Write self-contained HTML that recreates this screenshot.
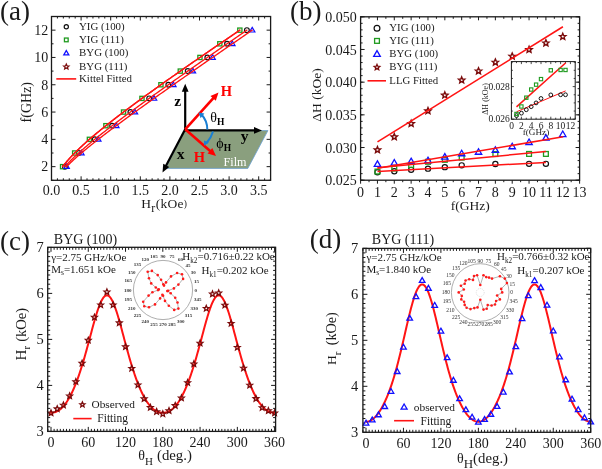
<!DOCTYPE html>
<html><head><meta charset="utf-8"><style>
html,body{margin:0;padding:0;background:#fff;width:602px;height:469px;overflow:hidden}
svg{display:block;font-family:"Liberation Serif", serif;will-change:transform}
</style></head><body>
<svg width="602" height="469" viewBox="0 0 602 469">
<rect width="602" height="469" fill="#fff"/>
<text x="0" y="20.1" font-size="27" text-anchor="start" font-weight="normal" fill="#1a1a1a" >(a)</text>
<line x1="51.5" y1="180.3" x2="51.5" y2="176.3" stroke="#1a1a1a" stroke-width="1.0" />
<line x1="51.5" y1="16.5" x2="51.5" y2="20.5" stroke="#1a1a1a" stroke-width="1.0" />
<line x1="81.1" y1="180.3" x2="81.1" y2="176.3" stroke="#1a1a1a" stroke-width="1.0" />
<line x1="81.1" y1="16.5" x2="81.1" y2="20.5" stroke="#1a1a1a" stroke-width="1.0" />
<line x1="110.7" y1="180.3" x2="110.7" y2="176.3" stroke="#1a1a1a" stroke-width="1.0" />
<line x1="110.7" y1="16.5" x2="110.7" y2="20.5" stroke="#1a1a1a" stroke-width="1.0" />
<line x1="140.3" y1="180.3" x2="140.3" y2="176.3" stroke="#1a1a1a" stroke-width="1.0" />
<line x1="140.3" y1="16.5" x2="140.3" y2="20.5" stroke="#1a1a1a" stroke-width="1.0" />
<line x1="169.9" y1="180.3" x2="169.9" y2="176.3" stroke="#1a1a1a" stroke-width="1.0" />
<line x1="169.9" y1="16.5" x2="169.9" y2="20.5" stroke="#1a1a1a" stroke-width="1.0" />
<line x1="199.5" y1="180.3" x2="199.5" y2="176.3" stroke="#1a1a1a" stroke-width="1.0" />
<line x1="199.5" y1="16.5" x2="199.5" y2="20.5" stroke="#1a1a1a" stroke-width="1.0" />
<line x1="229.1" y1="180.3" x2="229.1" y2="176.3" stroke="#1a1a1a" stroke-width="1.0" />
<line x1="229.1" y1="16.5" x2="229.1" y2="20.5" stroke="#1a1a1a" stroke-width="1.0" />
<line x1="258.7" y1="180.3" x2="258.7" y2="176.3" stroke="#1a1a1a" stroke-width="1.0" />
<line x1="258.7" y1="16.5" x2="258.7" y2="20.5" stroke="#1a1a1a" stroke-width="1.0" />
<line x1="57.42" y1="180.3" x2="57.42" y2="178.3" stroke="#1a1a1a" stroke-width="1.0" />
<line x1="57.42" y1="16.5" x2="57.42" y2="18.5" stroke="#1a1a1a" stroke-width="1.0" />
<line x1="63.34" y1="180.3" x2="63.34" y2="178.3" stroke="#1a1a1a" stroke-width="1.0" />
<line x1="63.34" y1="16.5" x2="63.34" y2="18.5" stroke="#1a1a1a" stroke-width="1.0" />
<line x1="69.26" y1="180.3" x2="69.26" y2="178.3" stroke="#1a1a1a" stroke-width="1.0" />
<line x1="69.26" y1="16.5" x2="69.26" y2="18.5" stroke="#1a1a1a" stroke-width="1.0" />
<line x1="75.18" y1="180.3" x2="75.18" y2="178.3" stroke="#1a1a1a" stroke-width="1.0" />
<line x1="75.18" y1="16.5" x2="75.18" y2="18.5" stroke="#1a1a1a" stroke-width="1.0" />
<line x1="87.02" y1="180.3" x2="87.02" y2="178.3" stroke="#1a1a1a" stroke-width="1.0" />
<line x1="87.02" y1="16.5" x2="87.02" y2="18.5" stroke="#1a1a1a" stroke-width="1.0" />
<line x1="92.94" y1="180.3" x2="92.94" y2="178.3" stroke="#1a1a1a" stroke-width="1.0" />
<line x1="92.94" y1="16.5" x2="92.94" y2="18.5" stroke="#1a1a1a" stroke-width="1.0" />
<line x1="98.86" y1="180.3" x2="98.86" y2="178.3" stroke="#1a1a1a" stroke-width="1.0" />
<line x1="98.86" y1="16.5" x2="98.86" y2="18.5" stroke="#1a1a1a" stroke-width="1.0" />
<line x1="104.78" y1="180.3" x2="104.78" y2="178.3" stroke="#1a1a1a" stroke-width="1.0" />
<line x1="104.78" y1="16.5" x2="104.78" y2="18.5" stroke="#1a1a1a" stroke-width="1.0" />
<line x1="116.62" y1="180.3" x2="116.62" y2="178.3" stroke="#1a1a1a" stroke-width="1.0" />
<line x1="116.62" y1="16.5" x2="116.62" y2="18.5" stroke="#1a1a1a" stroke-width="1.0" />
<line x1="122.54" y1="180.3" x2="122.54" y2="178.3" stroke="#1a1a1a" stroke-width="1.0" />
<line x1="122.54" y1="16.5" x2="122.54" y2="18.5" stroke="#1a1a1a" stroke-width="1.0" />
<line x1="128.46" y1="180.3" x2="128.46" y2="178.3" stroke="#1a1a1a" stroke-width="1.0" />
<line x1="128.46" y1="16.5" x2="128.46" y2="18.5" stroke="#1a1a1a" stroke-width="1.0" />
<line x1="134.38" y1="180.3" x2="134.38" y2="178.3" stroke="#1a1a1a" stroke-width="1.0" />
<line x1="134.38" y1="16.5" x2="134.38" y2="18.5" stroke="#1a1a1a" stroke-width="1.0" />
<line x1="146.22" y1="180.3" x2="146.22" y2="178.3" stroke="#1a1a1a" stroke-width="1.0" />
<line x1="146.22" y1="16.5" x2="146.22" y2="18.5" stroke="#1a1a1a" stroke-width="1.0" />
<line x1="152.14" y1="180.3" x2="152.14" y2="178.3" stroke="#1a1a1a" stroke-width="1.0" />
<line x1="152.14" y1="16.5" x2="152.14" y2="18.5" stroke="#1a1a1a" stroke-width="1.0" />
<line x1="158.06" y1="180.3" x2="158.06" y2="178.3" stroke="#1a1a1a" stroke-width="1.0" />
<line x1="158.06" y1="16.5" x2="158.06" y2="18.5" stroke="#1a1a1a" stroke-width="1.0" />
<line x1="163.98" y1="180.3" x2="163.98" y2="178.3" stroke="#1a1a1a" stroke-width="1.0" />
<line x1="163.98" y1="16.5" x2="163.98" y2="18.5" stroke="#1a1a1a" stroke-width="1.0" />
<line x1="175.82" y1="180.3" x2="175.82" y2="178.3" stroke="#1a1a1a" stroke-width="1.0" />
<line x1="175.82" y1="16.5" x2="175.82" y2="18.5" stroke="#1a1a1a" stroke-width="1.0" />
<line x1="181.74" y1="180.3" x2="181.74" y2="178.3" stroke="#1a1a1a" stroke-width="1.0" />
<line x1="181.74" y1="16.5" x2="181.74" y2="18.5" stroke="#1a1a1a" stroke-width="1.0" />
<line x1="187.66" y1="180.3" x2="187.66" y2="178.3" stroke="#1a1a1a" stroke-width="1.0" />
<line x1="187.66" y1="16.5" x2="187.66" y2="18.5" stroke="#1a1a1a" stroke-width="1.0" />
<line x1="193.58" y1="180.3" x2="193.58" y2="178.3" stroke="#1a1a1a" stroke-width="1.0" />
<line x1="193.58" y1="16.5" x2="193.58" y2="18.5" stroke="#1a1a1a" stroke-width="1.0" />
<line x1="205.42" y1="180.3" x2="205.42" y2="178.3" stroke="#1a1a1a" stroke-width="1.0" />
<line x1="205.42" y1="16.5" x2="205.42" y2="18.5" stroke="#1a1a1a" stroke-width="1.0" />
<line x1="211.34" y1="180.3" x2="211.34" y2="178.3" stroke="#1a1a1a" stroke-width="1.0" />
<line x1="211.34" y1="16.5" x2="211.34" y2="18.5" stroke="#1a1a1a" stroke-width="1.0" />
<line x1="217.26" y1="180.3" x2="217.26" y2="178.3" stroke="#1a1a1a" stroke-width="1.0" />
<line x1="217.26" y1="16.5" x2="217.26" y2="18.5" stroke="#1a1a1a" stroke-width="1.0" />
<line x1="223.18" y1="180.3" x2="223.18" y2="178.3" stroke="#1a1a1a" stroke-width="1.0" />
<line x1="223.18" y1="16.5" x2="223.18" y2="18.5" stroke="#1a1a1a" stroke-width="1.0" />
<line x1="235.02" y1="180.3" x2="235.02" y2="178.3" stroke="#1a1a1a" stroke-width="1.0" />
<line x1="235.02" y1="16.5" x2="235.02" y2="18.5" stroke="#1a1a1a" stroke-width="1.0" />
<line x1="240.94" y1="180.3" x2="240.94" y2="178.3" stroke="#1a1a1a" stroke-width="1.0" />
<line x1="240.94" y1="16.5" x2="240.94" y2="18.5" stroke="#1a1a1a" stroke-width="1.0" />
<line x1="246.86" y1="180.3" x2="246.86" y2="178.3" stroke="#1a1a1a" stroke-width="1.0" />
<line x1="246.86" y1="16.5" x2="246.86" y2="18.5" stroke="#1a1a1a" stroke-width="1.0" />
<line x1="252.78" y1="180.3" x2="252.78" y2="178.3" stroke="#1a1a1a" stroke-width="1.0" />
<line x1="252.78" y1="16.5" x2="252.78" y2="18.5" stroke="#1a1a1a" stroke-width="1.0" />
<line x1="264.62" y1="180.3" x2="264.62" y2="178.3" stroke="#1a1a1a" stroke-width="1.0" />
<line x1="264.62" y1="16.5" x2="264.62" y2="18.5" stroke="#1a1a1a" stroke-width="1.0" />
<line x1="270.54" y1="180.3" x2="270.54" y2="178.3" stroke="#1a1a1a" stroke-width="1.0" />
<line x1="270.54" y1="16.5" x2="270.54" y2="18.5" stroke="#1a1a1a" stroke-width="1.0" />
<line x1="51.5" y1="166.65" x2="55.5" y2="166.65" stroke="#1a1a1a" stroke-width="1.0" />
<line x1="270.6" y1="166.65" x2="266.6" y2="166.65" stroke="#1a1a1a" stroke-width="1.0" />
<line x1="51.5" y1="139.35" x2="55.5" y2="139.35" stroke="#1a1a1a" stroke-width="1.0" />
<line x1="270.6" y1="139.35" x2="266.6" y2="139.35" stroke="#1a1a1a" stroke-width="1.0" />
<line x1="51.5" y1="112.05" x2="55.5" y2="112.05" stroke="#1a1a1a" stroke-width="1.0" />
<line x1="270.6" y1="112.05" x2="266.6" y2="112.05" stroke="#1a1a1a" stroke-width="1.0" />
<line x1="51.5" y1="84.75" x2="55.5" y2="84.75" stroke="#1a1a1a" stroke-width="1.0" />
<line x1="270.6" y1="84.75" x2="266.6" y2="84.75" stroke="#1a1a1a" stroke-width="1.0" />
<line x1="51.5" y1="57.45" x2="55.5" y2="57.45" stroke="#1a1a1a" stroke-width="1.0" />
<line x1="270.6" y1="57.45" x2="266.6" y2="57.45" stroke="#1a1a1a" stroke-width="1.0" />
<line x1="51.5" y1="30.15" x2="55.5" y2="30.15" stroke="#1a1a1a" stroke-width="1.0" />
<line x1="270.6" y1="30.15" x2="266.6" y2="30.15" stroke="#1a1a1a" stroke-width="1.0" />
<line x1="51.5" y1="180.3" x2="53.5" y2="180.3" stroke="#1a1a1a" stroke-width="1.0" />
<line x1="270.6" y1="180.3" x2="268.6" y2="180.3" stroke="#1a1a1a" stroke-width="1.0" />
<line x1="51.5" y1="153" x2="53.5" y2="153" stroke="#1a1a1a" stroke-width="1.0" />
<line x1="270.6" y1="153" x2="268.6" y2="153" stroke="#1a1a1a" stroke-width="1.0" />
<line x1="51.5" y1="125.7" x2="53.5" y2="125.7" stroke="#1a1a1a" stroke-width="1.0" />
<line x1="270.6" y1="125.7" x2="268.6" y2="125.7" stroke="#1a1a1a" stroke-width="1.0" />
<line x1="51.5" y1="98.4" x2="53.5" y2="98.4" stroke="#1a1a1a" stroke-width="1.0" />
<line x1="270.6" y1="98.4" x2="268.6" y2="98.4" stroke="#1a1a1a" stroke-width="1.0" />
<line x1="51.5" y1="71.1" x2="53.5" y2="71.1" stroke="#1a1a1a" stroke-width="1.0" />
<line x1="270.6" y1="71.1" x2="268.6" y2="71.1" stroke="#1a1a1a" stroke-width="1.0" />
<line x1="51.5" y1="43.8" x2="53.5" y2="43.8" stroke="#1a1a1a" stroke-width="1.0" />
<line x1="270.6" y1="43.8" x2="268.6" y2="43.8" stroke="#1a1a1a" stroke-width="1.0" />
<line x1="51.5" y1="16.5" x2="53.5" y2="16.5" stroke="#1a1a1a" stroke-width="1.0" />
<line x1="270.6" y1="16.5" x2="268.6" y2="16.5" stroke="#1a1a1a" stroke-width="1.0" />
<text x="51.5" y="195.1" font-size="14" text-anchor="middle" font-weight="normal" fill="#1a1a1a" >0.0</text>
<text x="81.1" y="195.1" font-size="14" text-anchor="middle" font-weight="normal" fill="#1a1a1a" >0.5</text>
<text x="110.7" y="195.1" font-size="14" text-anchor="middle" font-weight="normal" fill="#1a1a1a" >1.0</text>
<text x="140.3" y="195.1" font-size="14" text-anchor="middle" font-weight="normal" fill="#1a1a1a" >1.5</text>
<text x="169.9" y="195.1" font-size="14" text-anchor="middle" font-weight="normal" fill="#1a1a1a" >2.0</text>
<text x="199.5" y="195.1" font-size="14" text-anchor="middle" font-weight="normal" fill="#1a1a1a" >2.5</text>
<text x="229.1" y="195.1" font-size="14" text-anchor="middle" font-weight="normal" fill="#1a1a1a" >3.0</text>
<text x="258.7" y="195.1" font-size="14" text-anchor="middle" font-weight="normal" fill="#1a1a1a" >3.5</text>
<text x="48.2" y="171.45" font-size="14" text-anchor="end" font-weight="normal" fill="#1a1a1a" >2</text>
<text x="48.2" y="144.15" font-size="14" text-anchor="end" font-weight="normal" fill="#1a1a1a" >4</text>
<text x="48.2" y="116.85" font-size="14" text-anchor="end" font-weight="normal" fill="#1a1a1a" >6</text>
<text x="48.2" y="89.55" font-size="14" text-anchor="end" font-weight="normal" fill="#1a1a1a" >8</text>
<text x="48.2" y="62.25" font-size="14" text-anchor="end" font-weight="normal" fill="#1a1a1a" >10</text>
<text x="48.2" y="34.95" font-size="14" text-anchor="end" font-weight="normal" fill="#1a1a1a" >12</text>
<text transform="translate(30.6,102.2) rotate(-90)" font-size="14" text-anchor="middle" fill="#1a1a1a">f(GHz)</text>
<text x="141.3" y="207.8" font-size="13.5" letter-spacing="0.3" fill="#1a1a1a">H<tspan font-size="12" dy="4">r</tspan><tspan dy="-4">(kOe</tspan><tspan font-size="9.5" dy="-0.5">)</tspan></text>
<circle cx="64.91" cy="166.65" r="2.4" fill="none" stroke="#111" stroke-width="1.2"/>
<circle cx="78.66" cy="153" r="2.4" fill="none" stroke="#111" stroke-width="1.2"/>
<circle cx="94.72" cy="139.35" r="2.4" fill="none" stroke="#111" stroke-width="1.2"/>
<circle cx="112.15" cy="125.7" r="2.4" fill="none" stroke="#111" stroke-width="1.2"/>
<circle cx="130.41" cy="112.05" r="2.4" fill="none" stroke="#111" stroke-width="1.2"/>
<circle cx="149.2" cy="98.4" r="2.4" fill="none" stroke="#111" stroke-width="1.2"/>
<circle cx="168.35" cy="84.75" r="2.4" fill="none" stroke="#111" stroke-width="1.2"/>
<circle cx="187.75" cy="71.1" r="2.4" fill="none" stroke="#111" stroke-width="1.2"/>
<circle cx="207.34" cy="57.45" r="2.4" fill="none" stroke="#111" stroke-width="1.2"/>
<circle cx="227.05" cy="43.8" r="2.4" fill="none" stroke="#111" stroke-width="1.2"/>
<circle cx="246.88" cy="30.15" r="2.4" fill="none" stroke="#111" stroke-width="1.2"/>
<rect x="60.48" y="164.55" width="4.2" height="4.2" fill="none" stroke="#1f9a1f" stroke-width="1.3"/>
<rect x="72.57" y="150.9" width="4.2" height="4.2" fill="none" stroke="#1f9a1f" stroke-width="1.3"/>
<rect x="87.31" y="137.25" width="4.2" height="4.2" fill="none" stroke="#1f9a1f" stroke-width="1.3"/>
<rect x="103.8" y="123.6" width="4.2" height="4.2" fill="none" stroke="#1f9a1f" stroke-width="1.3"/>
<rect x="121.44" y="109.95" width="4.2" height="4.2" fill="none" stroke="#1f9a1f" stroke-width="1.3"/>
<rect x="139.86" y="96.3" width="4.2" height="4.2" fill="none" stroke="#1f9a1f" stroke-width="1.3"/>
<rect x="158.83" y="82.65" width="4.2" height="4.2" fill="none" stroke="#1f9a1f" stroke-width="1.3"/>
<rect x="178.19" y="69" width="4.2" height="4.2" fill="none" stroke="#1f9a1f" stroke-width="1.3"/>
<rect x="197.84" y="55.35" width="4.2" height="4.2" fill="none" stroke="#1f9a1f" stroke-width="1.3"/>
<rect x="217.71" y="41.7" width="4.2" height="4.2" fill="none" stroke="#1f9a1f" stroke-width="1.3"/>
<rect x="237.74" y="28.05" width="4.2" height="4.2" fill="none" stroke="#1f9a1f" stroke-width="1.3"/>
<polygon points="66.61,163.84 69.31,168.52 63.91,168.52" fill="none" stroke="#1010ff" stroke-width="1.2" stroke-linejoin="miter"/>
<polygon points="81.41,150.19 84.11,154.87 78.71,154.87" fill="none" stroke="#1010ff" stroke-width="1.2" stroke-linejoin="miter"/>
<polygon points="98.28,136.54 100.98,141.22 95.58,141.22" fill="none" stroke="#1010ff" stroke-width="1.2" stroke-linejoin="miter"/>
<polygon points="116.28,122.89 118.98,127.57 113.58,127.57" fill="none" stroke="#1010ff" stroke-width="1.2" stroke-linejoin="miter"/>
<polygon points="134.94,109.24 137.64,113.92 132.24,113.92" fill="none" stroke="#1010ff" stroke-width="1.2" stroke-linejoin="miter"/>
<polygon points="154.01,95.59 156.71,100.27 151.31,100.27" fill="none" stroke="#1010ff" stroke-width="1.2" stroke-linejoin="miter"/>
<polygon points="173.36,81.94 176.06,86.62 170.66,86.62" fill="none" stroke="#1010ff" stroke-width="1.2" stroke-linejoin="miter"/>
<polygon points="192.9,68.29 195.6,72.97 190.2,72.97" fill="none" stroke="#1010ff" stroke-width="1.2" stroke-linejoin="miter"/>
<polygon points="212.57,54.64 215.27,59.32 209.87,59.32" fill="none" stroke="#1010ff" stroke-width="1.2" stroke-linejoin="miter"/>
<polygon points="232.35,40.99 235.05,45.67 229.65,45.67" fill="none" stroke="#1010ff" stroke-width="1.2" stroke-linejoin="miter"/>
<polygon points="252.2,27.34 254.9,32.02 249.5,32.02" fill="none" stroke="#1010ff" stroke-width="1.2" stroke-linejoin="miter"/>
<polyline points="62.58,166.65 63.64,165.28 64.73,163.92 65.86,162.56 67.02,161.19 68.22,159.83 69.45,158.46 70.71,157.09 72,155.73 73.32,154.37 74.67,153 76.04,151.64 77.44,150.27 78.86,148.91 80.31,147.54 81.78,146.18 83.26,144.81 84.77,143.44 86.3,142.08 87.85,140.72 89.41,139.35 91,137.99 92.59,136.62 94.21,135.25 95.84,133.89 97.48,132.53 99.14,131.16 100.81,129.8 102.5,128.43 104.19,127.06 105.9,125.7 107.62,124.34 109.35,122.97 111.09,121.61 112.84,120.24 114.6,118.88 116.37,117.51 118.15,116.15 119.94,114.78 121.74,113.42 123.54,112.05 125.35,110.69 127.17,109.32 129,107.96 130.83,106.59 132.67,105.23 134.52,103.86 136.37,102.5 138.23,101.13 140.09,99.77 141.96,98.4 143.84,97.04 145.72,95.67 147.6,94.31 149.49,92.94 151.39,91.58 153.29,90.21 155.19,88.85 157.1,87.48 159.01,86.12 160.93,84.75 162.85,83.39 164.77,82.02 166.7,80.66 168.63,79.29 170.57,77.93 172.5,76.56 174.45,75.2 176.39,73.83 178.34,72.47 180.29,71.1 182.24,69.74 184.2,68.37 186.16,67 188.12,65.64 190.08,64.28 192.05,62.91 194.02,61.55 195.99,60.18 197.96,58.81 199.94,57.45 201.91,56.09 203.9,54.72 205.88,53.36 207.86,51.99 209.85,50.62 211.84,49.26 213.83,47.9 215.82,46.53 217.81,45.16 219.81,43.8 221.8,42.44 223.8,41.07 225.8,39.7 227.8,38.34 229.81,36.97 231.81,35.61 233.82,34.25 235.82,32.88 237.83,31.52 239.84,30.15" fill="none" stroke="#ff1414" stroke-width="1.35" stroke-linejoin="round" stroke-linecap="round" />
<polyline points="64.91,166.65 66.14,165.28 67.41,163.92 68.71,162.56 70.04,161.19 71.41,159.83 72.8,158.46 74.23,157.09 75.68,155.73 77.16,154.37 78.66,153 80.18,151.64 81.72,150.27 83.29,148.91 84.87,147.54 86.47,146.18 88.09,144.81 89.73,143.44 91.38,142.08 93.04,140.72 94.72,139.35 96.42,137.99 98.12,136.62 99.84,135.25 101.57,133.89 103.31,132.53 105.06,131.16 106.82,129.8 108.59,128.43 110.37,127.06 112.15,125.7 113.95,124.34 115.75,122.97 117.56,121.61 119.38,120.24 121.2,118.88 123.03,117.51 124.87,116.15 126.71,114.78 128.56,113.42 130.41,112.05 132.27,110.69 134.13,109.32 136,107.96 137.87,106.59 139.75,105.23 141.63,103.86 143.52,102.5 145.41,101.13 147.3,99.77 149.2,98.4 151.1,97.04 153.01,95.67 154.92,94.31 156.83,92.94 158.74,91.58 160.66,90.21 162.58,88.85 164.5,87.48 166.42,86.12 168.35,84.75 170.28,83.39 172.21,82.02 174.15,80.66 176.09,79.29 178.03,77.93 179.97,76.56 181.91,75.2 183.86,73.83 185.8,72.47 187.75,71.1 189.7,69.74 191.66,68.37 193.61,67 195.57,65.64 197.53,64.28 199.48,62.91 201.44,61.55 203.41,60.18 205.37,58.81 207.34,57.45 209.3,56.09 211.27,54.72 213.24,53.36 215.21,51.99 217.18,50.62 219.15,49.26 221.13,47.9 223.1,46.53 225.08,45.16 227.05,43.8 229.03,42.44 231.01,41.07 232.99,39.7 234.97,38.34 236.95,36.97 238.94,35.61 240.92,34.25 242.9,32.88 244.89,31.52 246.88,30.15" fill="none" stroke="#ff1414" stroke-width="1.35" stroke-linejoin="round" stroke-linecap="round" />
<polyline points="62.58,166.65 63.64,165.28 64.73,163.92 65.86,162.56 67.02,161.19 68.22,159.83 69.45,158.46 70.71,157.09 72,155.73 73.32,154.37 74.67,153 76.04,151.64 77.44,150.27 78.86,148.91 80.31,147.54 81.78,146.18 83.26,144.81 84.77,143.44 86.3,142.08 87.85,140.72 89.41,139.35 91,137.99 92.59,136.62 94.21,135.25 95.84,133.89 97.48,132.53 99.14,131.16 100.81,129.8 102.5,128.43 104.19,127.06 105.9,125.7 107.62,124.34 109.35,122.97 111.09,121.61 112.84,120.24 114.6,118.88 116.37,117.51 118.15,116.15 119.94,114.78 121.74,113.42 123.54,112.05 125.35,110.69 127.17,109.32 129,107.96 130.83,106.59 132.67,105.23 134.52,103.86 136.37,102.5 138.23,101.13 140.09,99.77 141.96,98.4 143.84,97.04 145.72,95.67 147.6,94.31 149.49,92.94 151.39,91.58 153.29,90.21 155.19,88.85 157.1,87.48 159.01,86.12 160.93,84.75 162.85,83.39 164.77,82.02 166.7,80.66 168.63,79.29 170.57,77.93 172.5,76.56 174.45,75.2 176.39,73.83 178.34,72.47 180.29,71.1 182.24,69.74 184.2,68.37 186.16,67 188.12,65.64 190.08,64.28 192.05,62.91 194.02,61.55 195.99,60.18 197.96,58.81 199.94,57.45 201.91,56.09 203.9,54.72 205.88,53.36 207.86,51.99 209.85,50.62 211.84,49.26 213.83,47.9 215.82,46.53 217.81,45.16 219.81,43.8 221.8,42.44 223.8,41.07 225.8,39.7 227.8,38.34 229.81,36.97 231.81,35.61 233.82,34.25 235.82,32.88 237.83,31.52 239.84,30.15" fill="none" stroke="#ff1414" stroke-width="1.35" stroke-linejoin="round" stroke-linecap="round" />
<polyline points="66.61,166.65 67.95,165.28 69.33,163.92 70.75,162.56 72.19,161.19 73.67,159.83 75.17,158.46 76.69,157.09 78.24,155.73 79.82,154.37 81.41,153 83.03,151.64 84.66,150.27 86.31,148.91 87.98,147.54 89.66,146.18 91.36,144.81 93.07,143.44 94.8,142.08 96.53,140.72 98.28,139.35 100.04,137.99 101.81,136.62 103.59,135.25 105.38,133.89 107.17,132.53 108.98,131.16 110.79,129.8 112.62,128.43 114.44,127.06 116.28,125.7 118.12,124.34 119.97,122.97 121.82,121.61 123.68,120.24 125.55,118.88 127.41,117.51 129.29,116.15 131.17,114.78 133.05,113.42 134.94,112.05 136.83,110.69 138.73,109.32 140.63,107.96 142.53,106.59 144.44,105.23 146.34,103.86 148.26,102.5 150.17,101.13 152.09,99.77 154.01,98.4 155.94,97.04 157.86,95.67 159.79,94.31 161.73,92.94 163.66,91.58 165.6,90.21 167.53,88.85 169.47,87.48 171.42,86.12 173.36,84.75 175.31,83.39 177.26,82.02 179.21,80.66 181.16,79.29 183.11,77.93 185.07,76.56 187.02,75.2 188.98,73.83 190.94,72.47 192.9,71.1 194.86,69.74 196.82,68.37 198.79,67 200.75,65.64 202.72,64.28 204.69,62.91 206.66,61.55 208.63,60.18 210.6,58.81 212.57,57.45 214.54,56.09 216.52,54.72 218.49,53.36 220.47,51.99 222.45,50.62 224.43,49.26 226.4,47.9 228.38,46.53 230.36,45.16 232.35,43.8 234.33,42.44 236.31,41.07 238.29,39.7 240.28,38.34 242.26,36.97 244.25,35.61 246.23,34.25 248.22,32.88 250.21,31.52 252.2,30.15" fill="none" stroke="#ff1414" stroke-width="1.35" stroke-linejoin="round" stroke-linecap="round" />
<circle cx="66.3" cy="26.7" r="2.1" fill="none" stroke="#111" stroke-width="1.2"/>
<rect x="64.45" y="38.05" width="3.7" height="3.7" fill="none" stroke="#1f9a1f" stroke-width="1.3"/>
<polygon points="66.3,50.5 68.8,54.83 63.8,54.83" fill="none" stroke="#1010ff" stroke-width="1.3" stroke-linejoin="miter"/>
<polygon points="66.3,64 67.04,65.78 68.96,65.93 67.5,67.19 67.95,69.07 66.3,68.06 64.65,69.07 65.1,67.19 63.64,65.93 65.56,65.78" fill="none" stroke="#7a0a0a" stroke-width="1.2" stroke-linejoin="miter"/>
<line x1="56.3" y1="78.9" x2="76.2" y2="78.9" stroke="#ff1414" stroke-width="1.6" />
<text x="79" y="29.8" font-size="10.9" text-anchor="start" font-weight="normal" fill="#1a1a1a" >YIG (100)</text>
<text x="79" y="43" font-size="10.9" text-anchor="start" font-weight="normal" fill="#1a1a1a" >YIG (111)</text>
<text x="79" y="56.2" font-size="10.9" text-anchor="start" font-weight="normal" fill="#1a1a1a" >BYG (100)</text>
<text x="79" y="69.9" font-size="10.9" text-anchor="start" font-weight="normal" fill="#1a1a1a" >BYG (111)</text>
<text x="79" y="82" font-size="10.9" text-anchor="start" font-weight="normal" fill="#1a1a1a" >Kittel Fitted</text>
<polygon points="184.7,130.6 267.9,130.6 247.8,168.4 165.5,168.4" fill="#8a9f7e" stroke="#6aa0d0" stroke-width="0.8"/>
<line x1="185.2" y1="129.3" x2="185.2" y2="90.7" stroke="#000" stroke-width="2.2" />
<polygon points="185.2,83.7 188.6,91.7 181.8,91.7" fill="#000"/>
<line x1="184.2" y1="130.4" x2="255" y2="130.4" stroke="#000" stroke-width="2.2" />
<polygon points="262,130.4 254,133.8 254,127" fill="#000"/>
<line x1="185.2" y1="129.3" x2="165.76" y2="166.21" stroke="#000" stroke-width="2.2" />
<polygon points="162.5,172.4 163.22,163.74 169.24,166.91" fill="#000"/>
<line x1="185.2" y1="129.3" x2="213.8" y2="97.69" stroke="#ff0000" stroke-width="2.6" />
<polygon points="218.5,92.5 215.8,100.85 210.46,96.02" fill="#ff0000"/>
<line x1="185.2" y1="129.3" x2="210.71" y2="151.41" stroke="#ff0000" stroke-width="2.6" />
<polygon points="216,156 207.6,153.48 212.31,148.04" fill="#ff0000"/>
<path d="M207.3,129.5 A22,22 0 0 0 201.5,114.5" fill="none" stroke="#1a7fd4" stroke-width="2"/>
<polygon points="198.6,112.6 204.4,113.4 200.6,118.2" fill="#1a7fd4"/>
<path d="M213,131.5 A28,28 0 0 1 206.5,143" fill="none" stroke="#1a7fd4" stroke-width="2"/>
<polygon points="204.2,145.8 204.0,140.5 208.8,142.5" fill="#1a7fd4"/>
<text x="177.6" y="106.3" font-size="15.5" text-anchor="middle" font-weight="bold" fill="#000" >z</text>
<text x="244.5" y="140.5" font-size="15.5" text-anchor="middle" font-weight="bold" fill="#000" >y</text>
<text x="180.5" y="158.8" font-size="15.5" text-anchor="middle" font-weight="bold" fill="#000" >x</text>
<text x="226.4" y="96.4" font-size="14.5" text-anchor="middle" font-weight="bold" fill="#ff0000" >H</text>
<text x="199.5" y="162.3" font-size="14.5" text-anchor="middle" font-weight="bold" fill="#ff0000" >H</text>
<text x="210.3" y="122.3" font-size="14" fill="#000">θ<tspan font-size="9.5" dy="2.6" font-weight="bold">H</tspan></text>
<text x="216.3" y="148.3" font-size="14" fill="#000">ϕ<tspan font-size="9.5" dy="2.6" font-weight="bold">H</tspan></text>
<text x="235" y="166.3" font-size="12.2" text-anchor="middle" font-weight="normal" fill="#ffffff" >Film</text>
<rect x="51.5" y="16.5" width="219.1" height="163.8" fill="none" stroke="#1a1a1a" stroke-width="1.3"/>
<text x="289.9" y="20.3" font-size="27" text-anchor="start" font-weight="normal" fill="#1a1a1a" >(b)</text>
<line x1="360.6" y1="180.2" x2="360.6" y2="183.7" stroke="#1a1a1a" stroke-width="1.0" />
<line x1="360.6" y1="16.8" x2="360.6" y2="20.3" stroke="#1a1a1a" stroke-width="1.0" />
<line x1="377.45" y1="180.2" x2="377.45" y2="183.7" stroke="#1a1a1a" stroke-width="1.0" />
<line x1="377.45" y1="16.8" x2="377.45" y2="20.3" stroke="#1a1a1a" stroke-width="1.0" />
<line x1="394.29" y1="180.2" x2="394.29" y2="183.7" stroke="#1a1a1a" stroke-width="1.0" />
<line x1="394.29" y1="16.8" x2="394.29" y2="20.3" stroke="#1a1a1a" stroke-width="1.0" />
<line x1="411.14" y1="180.2" x2="411.14" y2="183.7" stroke="#1a1a1a" stroke-width="1.0" />
<line x1="411.14" y1="16.8" x2="411.14" y2="20.3" stroke="#1a1a1a" stroke-width="1.0" />
<line x1="427.98" y1="180.2" x2="427.98" y2="183.7" stroke="#1a1a1a" stroke-width="1.0" />
<line x1="427.98" y1="16.8" x2="427.98" y2="20.3" stroke="#1a1a1a" stroke-width="1.0" />
<line x1="444.83" y1="180.2" x2="444.83" y2="183.7" stroke="#1a1a1a" stroke-width="1.0" />
<line x1="444.83" y1="16.8" x2="444.83" y2="20.3" stroke="#1a1a1a" stroke-width="1.0" />
<line x1="461.68" y1="180.2" x2="461.68" y2="183.7" stroke="#1a1a1a" stroke-width="1.0" />
<line x1="461.68" y1="16.8" x2="461.68" y2="20.3" stroke="#1a1a1a" stroke-width="1.0" />
<line x1="478.52" y1="180.2" x2="478.52" y2="183.7" stroke="#1a1a1a" stroke-width="1.0" />
<line x1="478.52" y1="16.8" x2="478.52" y2="20.3" stroke="#1a1a1a" stroke-width="1.0" />
<line x1="495.37" y1="180.2" x2="495.37" y2="183.7" stroke="#1a1a1a" stroke-width="1.0" />
<line x1="495.37" y1="16.8" x2="495.37" y2="20.3" stroke="#1a1a1a" stroke-width="1.0" />
<line x1="512.21" y1="180.2" x2="512.21" y2="183.7" stroke="#1a1a1a" stroke-width="1.0" />
<line x1="512.21" y1="16.8" x2="512.21" y2="20.3" stroke="#1a1a1a" stroke-width="1.0" />
<line x1="529.06" y1="180.2" x2="529.06" y2="183.7" stroke="#1a1a1a" stroke-width="1.0" />
<line x1="529.06" y1="16.8" x2="529.06" y2="20.3" stroke="#1a1a1a" stroke-width="1.0" />
<line x1="545.91" y1="180.2" x2="545.91" y2="183.7" stroke="#1a1a1a" stroke-width="1.0" />
<line x1="545.91" y1="16.8" x2="545.91" y2="20.3" stroke="#1a1a1a" stroke-width="1.0" />
<line x1="562.75" y1="180.2" x2="562.75" y2="183.7" stroke="#1a1a1a" stroke-width="1.0" />
<line x1="562.75" y1="16.8" x2="562.75" y2="20.3" stroke="#1a1a1a" stroke-width="1.0" />
<line x1="579.6" y1="180.2" x2="579.6" y2="183.7" stroke="#1a1a1a" stroke-width="1.0" />
<line x1="579.6" y1="16.8" x2="579.6" y2="20.3" stroke="#1a1a1a" stroke-width="1.0" />
<line x1="369.02" y1="180.2" x2="369.02" y2="182.2" stroke="#1a1a1a" stroke-width="1.0" />
<line x1="369.02" y1="16.8" x2="369.02" y2="18.8" stroke="#1a1a1a" stroke-width="1.0" />
<line x1="385.87" y1="180.2" x2="385.87" y2="182.2" stroke="#1a1a1a" stroke-width="1.0" />
<line x1="385.87" y1="16.8" x2="385.87" y2="18.8" stroke="#1a1a1a" stroke-width="1.0" />
<line x1="402.72" y1="180.2" x2="402.72" y2="182.2" stroke="#1a1a1a" stroke-width="1.0" />
<line x1="402.72" y1="16.8" x2="402.72" y2="18.8" stroke="#1a1a1a" stroke-width="1.0" />
<line x1="419.56" y1="180.2" x2="419.56" y2="182.2" stroke="#1a1a1a" stroke-width="1.0" />
<line x1="419.56" y1="16.8" x2="419.56" y2="18.8" stroke="#1a1a1a" stroke-width="1.0" />
<line x1="436.41" y1="180.2" x2="436.41" y2="182.2" stroke="#1a1a1a" stroke-width="1.0" />
<line x1="436.41" y1="16.8" x2="436.41" y2="18.8" stroke="#1a1a1a" stroke-width="1.0" />
<line x1="453.25" y1="180.2" x2="453.25" y2="182.2" stroke="#1a1a1a" stroke-width="1.0" />
<line x1="453.25" y1="16.8" x2="453.25" y2="18.8" stroke="#1a1a1a" stroke-width="1.0" />
<line x1="470.1" y1="180.2" x2="470.1" y2="182.2" stroke="#1a1a1a" stroke-width="1.0" />
<line x1="470.1" y1="16.8" x2="470.1" y2="18.8" stroke="#1a1a1a" stroke-width="1.0" />
<line x1="486.95" y1="180.2" x2="486.95" y2="182.2" stroke="#1a1a1a" stroke-width="1.0" />
<line x1="486.95" y1="16.8" x2="486.95" y2="18.8" stroke="#1a1a1a" stroke-width="1.0" />
<line x1="503.79" y1="180.2" x2="503.79" y2="182.2" stroke="#1a1a1a" stroke-width="1.0" />
<line x1="503.79" y1="16.8" x2="503.79" y2="18.8" stroke="#1a1a1a" stroke-width="1.0" />
<line x1="520.64" y1="180.2" x2="520.64" y2="182.2" stroke="#1a1a1a" stroke-width="1.0" />
<line x1="520.64" y1="16.8" x2="520.64" y2="18.8" stroke="#1a1a1a" stroke-width="1.0" />
<line x1="537.48" y1="180.2" x2="537.48" y2="182.2" stroke="#1a1a1a" stroke-width="1.0" />
<line x1="537.48" y1="16.8" x2="537.48" y2="18.8" stroke="#1a1a1a" stroke-width="1.0" />
<line x1="554.33" y1="180.2" x2="554.33" y2="182.2" stroke="#1a1a1a" stroke-width="1.0" />
<line x1="554.33" y1="16.8" x2="554.33" y2="18.8" stroke="#1a1a1a" stroke-width="1.0" />
<line x1="571.17" y1="180.2" x2="571.17" y2="182.2" stroke="#1a1a1a" stroke-width="1.0" />
<line x1="571.17" y1="16.8" x2="571.17" y2="18.8" stroke="#1a1a1a" stroke-width="1.0" />
<line x1="360.6" y1="180.2" x2="364.6" y2="180.2" stroke="#1a1a1a" stroke-width="1.0" />
<line x1="579.6" y1="180.2" x2="575.6" y2="180.2" stroke="#1a1a1a" stroke-width="1.0" />
<line x1="360.6" y1="147.52" x2="364.6" y2="147.52" stroke="#1a1a1a" stroke-width="1.0" />
<line x1="579.6" y1="147.52" x2="575.6" y2="147.52" stroke="#1a1a1a" stroke-width="1.0" />
<line x1="360.6" y1="114.84" x2="364.6" y2="114.84" stroke="#1a1a1a" stroke-width="1.0" />
<line x1="579.6" y1="114.84" x2="575.6" y2="114.84" stroke="#1a1a1a" stroke-width="1.0" />
<line x1="360.6" y1="82.16" x2="364.6" y2="82.16" stroke="#1a1a1a" stroke-width="1.0" />
<line x1="579.6" y1="82.16" x2="575.6" y2="82.16" stroke="#1a1a1a" stroke-width="1.0" />
<line x1="360.6" y1="49.48" x2="364.6" y2="49.48" stroke="#1a1a1a" stroke-width="1.0" />
<line x1="579.6" y1="49.48" x2="575.6" y2="49.48" stroke="#1a1a1a" stroke-width="1.0" />
<line x1="360.6" y1="16.8" x2="364.6" y2="16.8" stroke="#1a1a1a" stroke-width="1.0" />
<line x1="579.6" y1="16.8" x2="575.6" y2="16.8" stroke="#1a1a1a" stroke-width="1.0" />
<line x1="360.6" y1="180.2" x2="362.6" y2="180.2" stroke="#1a1a1a" stroke-width="1.0" />
<line x1="579.6" y1="180.2" x2="577.6" y2="180.2" stroke="#1a1a1a" stroke-width="1.0" />
<line x1="360.6" y1="173.66" x2="362.6" y2="173.66" stroke="#1a1a1a" stroke-width="1.0" />
<line x1="579.6" y1="173.66" x2="577.6" y2="173.66" stroke="#1a1a1a" stroke-width="1.0" />
<line x1="360.6" y1="167.13" x2="362.6" y2="167.13" stroke="#1a1a1a" stroke-width="1.0" />
<line x1="579.6" y1="167.13" x2="577.6" y2="167.13" stroke="#1a1a1a" stroke-width="1.0" />
<line x1="360.6" y1="160.59" x2="362.6" y2="160.59" stroke="#1a1a1a" stroke-width="1.0" />
<line x1="579.6" y1="160.59" x2="577.6" y2="160.59" stroke="#1a1a1a" stroke-width="1.0" />
<line x1="360.6" y1="154.06" x2="362.6" y2="154.06" stroke="#1a1a1a" stroke-width="1.0" />
<line x1="579.6" y1="154.06" x2="577.6" y2="154.06" stroke="#1a1a1a" stroke-width="1.0" />
<line x1="360.6" y1="147.52" x2="362.6" y2="147.52" stroke="#1a1a1a" stroke-width="1.0" />
<line x1="579.6" y1="147.52" x2="577.6" y2="147.52" stroke="#1a1a1a" stroke-width="1.0" />
<line x1="360.6" y1="140.98" x2="362.6" y2="140.98" stroke="#1a1a1a" stroke-width="1.0" />
<line x1="579.6" y1="140.98" x2="577.6" y2="140.98" stroke="#1a1a1a" stroke-width="1.0" />
<line x1="360.6" y1="134.45" x2="362.6" y2="134.45" stroke="#1a1a1a" stroke-width="1.0" />
<line x1="579.6" y1="134.45" x2="577.6" y2="134.45" stroke="#1a1a1a" stroke-width="1.0" />
<line x1="360.6" y1="127.91" x2="362.6" y2="127.91" stroke="#1a1a1a" stroke-width="1.0" />
<line x1="579.6" y1="127.91" x2="577.6" y2="127.91" stroke="#1a1a1a" stroke-width="1.0" />
<line x1="360.6" y1="121.38" x2="362.6" y2="121.38" stroke="#1a1a1a" stroke-width="1.0" />
<line x1="579.6" y1="121.38" x2="577.6" y2="121.38" stroke="#1a1a1a" stroke-width="1.0" />
<line x1="360.6" y1="114.84" x2="362.6" y2="114.84" stroke="#1a1a1a" stroke-width="1.0" />
<line x1="579.6" y1="114.84" x2="577.6" y2="114.84" stroke="#1a1a1a" stroke-width="1.0" />
<line x1="360.6" y1="108.3" x2="362.6" y2="108.3" stroke="#1a1a1a" stroke-width="1.0" />
<line x1="579.6" y1="108.3" x2="577.6" y2="108.3" stroke="#1a1a1a" stroke-width="1.0" />
<line x1="360.6" y1="101.77" x2="362.6" y2="101.77" stroke="#1a1a1a" stroke-width="1.0" />
<line x1="579.6" y1="101.77" x2="577.6" y2="101.77" stroke="#1a1a1a" stroke-width="1.0" />
<line x1="360.6" y1="95.23" x2="362.6" y2="95.23" stroke="#1a1a1a" stroke-width="1.0" />
<line x1="579.6" y1="95.23" x2="577.6" y2="95.23" stroke="#1a1a1a" stroke-width="1.0" />
<line x1="360.6" y1="88.7" x2="362.6" y2="88.7" stroke="#1a1a1a" stroke-width="1.0" />
<line x1="579.6" y1="88.7" x2="577.6" y2="88.7" stroke="#1a1a1a" stroke-width="1.0" />
<line x1="360.6" y1="82.16" x2="362.6" y2="82.16" stroke="#1a1a1a" stroke-width="1.0" />
<line x1="579.6" y1="82.16" x2="577.6" y2="82.16" stroke="#1a1a1a" stroke-width="1.0" />
<line x1="360.6" y1="75.62" x2="362.6" y2="75.62" stroke="#1a1a1a" stroke-width="1.0" />
<line x1="579.6" y1="75.62" x2="577.6" y2="75.62" stroke="#1a1a1a" stroke-width="1.0" />
<line x1="360.6" y1="69.09" x2="362.6" y2="69.09" stroke="#1a1a1a" stroke-width="1.0" />
<line x1="579.6" y1="69.09" x2="577.6" y2="69.09" stroke="#1a1a1a" stroke-width="1.0" />
<line x1="360.6" y1="62.55" x2="362.6" y2="62.55" stroke="#1a1a1a" stroke-width="1.0" />
<line x1="579.6" y1="62.55" x2="577.6" y2="62.55" stroke="#1a1a1a" stroke-width="1.0" />
<line x1="360.6" y1="56.02" x2="362.6" y2="56.02" stroke="#1a1a1a" stroke-width="1.0" />
<line x1="579.6" y1="56.02" x2="577.6" y2="56.02" stroke="#1a1a1a" stroke-width="1.0" />
<line x1="360.6" y1="49.48" x2="362.6" y2="49.48" stroke="#1a1a1a" stroke-width="1.0" />
<line x1="579.6" y1="49.48" x2="577.6" y2="49.48" stroke="#1a1a1a" stroke-width="1.0" />
<line x1="360.6" y1="42.94" x2="362.6" y2="42.94" stroke="#1a1a1a" stroke-width="1.0" />
<line x1="579.6" y1="42.94" x2="577.6" y2="42.94" stroke="#1a1a1a" stroke-width="1.0" />
<line x1="360.6" y1="36.41" x2="362.6" y2="36.41" stroke="#1a1a1a" stroke-width="1.0" />
<line x1="579.6" y1="36.41" x2="577.6" y2="36.41" stroke="#1a1a1a" stroke-width="1.0" />
<line x1="360.6" y1="29.87" x2="362.6" y2="29.87" stroke="#1a1a1a" stroke-width="1.0" />
<line x1="579.6" y1="29.87" x2="577.6" y2="29.87" stroke="#1a1a1a" stroke-width="1.0" />
<line x1="360.6" y1="23.34" x2="362.6" y2="23.34" stroke="#1a1a1a" stroke-width="1.0" />
<line x1="579.6" y1="23.34" x2="577.6" y2="23.34" stroke="#1a1a1a" stroke-width="1.0" />
<line x1="360.6" y1="16.8" x2="362.6" y2="16.8" stroke="#1a1a1a" stroke-width="1.0" />
<line x1="579.6" y1="16.8" x2="577.6" y2="16.8" stroke="#1a1a1a" stroke-width="1.0" />
<text x="360.6" y="197.2" font-size="14" text-anchor="middle" font-weight="normal" fill="#1a1a1a" >0</text>
<text x="377.45" y="197.2" font-size="14" text-anchor="middle" font-weight="normal" fill="#1a1a1a" >1</text>
<text x="394.29" y="197.2" font-size="14" text-anchor="middle" font-weight="normal" fill="#1a1a1a" >2</text>
<text x="411.14" y="197.2" font-size="14" text-anchor="middle" font-weight="normal" fill="#1a1a1a" >3</text>
<text x="427.98" y="197.2" font-size="14" text-anchor="middle" font-weight="normal" fill="#1a1a1a" >4</text>
<text x="444.83" y="197.2" font-size="14" text-anchor="middle" font-weight="normal" fill="#1a1a1a" >5</text>
<text x="461.68" y="197.2" font-size="14" text-anchor="middle" font-weight="normal" fill="#1a1a1a" >6</text>
<text x="478.52" y="197.2" font-size="14" text-anchor="middle" font-weight="normal" fill="#1a1a1a" >7</text>
<text x="495.37" y="197.2" font-size="14" text-anchor="middle" font-weight="normal" fill="#1a1a1a" >8</text>
<text x="512.21" y="197.2" font-size="14" text-anchor="middle" font-weight="normal" fill="#1a1a1a" >9</text>
<text x="529.06" y="197.2" font-size="14" text-anchor="middle" font-weight="normal" fill="#1a1a1a" >10</text>
<text x="545.91" y="197.2" font-size="14" text-anchor="middle" font-weight="normal" fill="#1a1a1a" >11</text>
<text x="562.75" y="197.2" font-size="14" text-anchor="middle" font-weight="normal" fill="#1a1a1a" >12</text>
<text x="579.6" y="197.2" font-size="14" text-anchor="middle" font-weight="normal" fill="#1a1a1a" >13</text>
<text x="356.8" y="185.4" font-size="14" text-anchor="end" font-weight="normal" fill="#1a1a1a" >0.025</text>
<text x="356.8" y="152.72" font-size="14" text-anchor="end" font-weight="normal" fill="#1a1a1a" >0.030</text>
<text x="356.8" y="120.04" font-size="14" text-anchor="end" font-weight="normal" fill="#1a1a1a" >0.035</text>
<text x="356.8" y="87.36" font-size="14" text-anchor="end" font-weight="normal" fill="#1a1a1a" >0.040</text>
<text x="356.8" y="54.68" font-size="14" text-anchor="end" font-weight="normal" fill="#1a1a1a" >0.045</text>
<text x="356.8" y="22" font-size="14" text-anchor="end" font-weight="normal" fill="#1a1a1a" >0.050</text>
<text transform="translate(321.4,95) rotate(-90)" font-size="13.5" text-anchor="middle" fill="#1a1a1a">ΔH (kOe)</text>
<text x="470.3" y="209.5" font-size="13.5" text-anchor="middle" font-weight="normal" fill="#1a1a1a" >f(GHz)</text>
<circle cx="377.45" cy="172.23" r="2.6" fill="none" stroke="#111" stroke-width="1.2"/>
<circle cx="394.29" cy="171.25" r="2.6" fill="none" stroke="#111" stroke-width="1.2"/>
<circle cx="411.14" cy="169.87" r="2.6" fill="none" stroke="#111" stroke-width="1.2"/>
<circle cx="427.98" cy="168.63" r="2.6" fill="none" stroke="#111" stroke-width="1.2"/>
<circle cx="444.83" cy="167.13" r="2.6" fill="none" stroke="#111" stroke-width="1.2"/>
<circle cx="461.68" cy="165.36" r="2.6" fill="none" stroke="#111" stroke-width="1.2"/>
<circle cx="495.37" cy="163.93" r="2.6" fill="none" stroke="#111" stroke-width="1.2"/>
<circle cx="529.06" cy="163.86" r="2.6" fill="none" stroke="#111" stroke-width="1.2"/>
<circle cx="545.91" cy="163.86" r="2.6" fill="none" stroke="#111" stroke-width="1.2"/>
<rect x="375.05" y="169.17" width="4.8" height="4.8" fill="none" stroke="#1f9a1f" stroke-width="1.3"/>
<rect x="391.89" y="166.17" width="4.8" height="4.8" fill="none" stroke="#1f9a1f" stroke-width="1.3"/>
<rect x="408.74" y="162.64" width="4.8" height="4.8" fill="none" stroke="#1f9a1f" stroke-width="1.3"/>
<rect x="425.58" y="159.37" width="4.8" height="4.8" fill="none" stroke="#1f9a1f" stroke-width="1.3"/>
<rect x="442.43" y="157.41" width="4.8" height="4.8" fill="none" stroke="#1f9a1f" stroke-width="1.3"/>
<rect x="459.28" y="155.19" width="4.8" height="4.8" fill="none" stroke="#1f9a1f" stroke-width="1.3"/>
<rect x="492.97" y="151.66" width="4.8" height="4.8" fill="none" stroke="#1f9a1f" stroke-width="1.3"/>
<rect x="526.66" y="151.53" width="4.8" height="4.8" fill="none" stroke="#1f9a1f" stroke-width="1.3"/>
<rect x="543.51" y="151.53" width="4.8" height="4.8" fill="none" stroke="#1f9a1f" stroke-width="1.3"/>
<polygon points="377.45,160.86 380.65,166.4 374.25,166.4" fill="none" stroke="#1010ff" stroke-width="1.3" stroke-linejoin="miter"/>
<polygon points="394.29,159.55 397.49,165.1 391.09,165.1" fill="none" stroke="#1010ff" stroke-width="1.3" stroke-linejoin="miter"/>
<polygon points="411.14,158.18 414.34,163.72 407.94,163.72" fill="none" stroke="#1010ff" stroke-width="1.3" stroke-linejoin="miter"/>
<polygon points="427.98,157.2 431.18,162.74 424.78,162.74" fill="none" stroke="#1010ff" stroke-width="1.3" stroke-linejoin="miter"/>
<polygon points="444.83,153.61 448.03,159.15 441.63,159.15" fill="none" stroke="#1010ff" stroke-width="1.3" stroke-linejoin="miter"/>
<polygon points="461.68,150.21 464.88,155.75 458.48,155.75" fill="none" stroke="#1010ff" stroke-width="1.3" stroke-linejoin="miter"/>
<polygon points="478.52,148.7 481.72,154.25 475.32,154.25" fill="none" stroke="#1010ff" stroke-width="1.3" stroke-linejoin="miter"/>
<polygon points="495.37,146.87 498.57,152.42 492.17,152.42" fill="none" stroke="#1010ff" stroke-width="1.3" stroke-linejoin="miter"/>
<polygon points="512.21,143.21 515.41,148.76 509.01,148.76" fill="none" stroke="#1010ff" stroke-width="1.3" stroke-linejoin="miter"/>
<polygon points="529.06,138.97 532.26,144.51 525.86,144.51" fill="none" stroke="#1010ff" stroke-width="1.3" stroke-linejoin="miter"/>
<polygon points="545.91,134.59 549.11,140.13 542.71,140.13" fill="none" stroke="#1010ff" stroke-width="1.3" stroke-linejoin="miter"/>
<polygon points="562.75,130.99 565.95,136.53 559.55,136.53" fill="none" stroke="#1010ff" stroke-width="1.3" stroke-linejoin="miter"/>
<polygon points="377.45,146.64 378.32,148.74 380.58,148.92 378.86,150.4 379.39,152.61 377.45,151.42 375.51,152.61 376.03,150.4 374.31,148.92 376.57,148.74" fill="none" stroke="#7a0a0a" stroke-width="1.4" stroke-linejoin="miter"/>
<polygon points="394.29,133.63 395.16,135.73 397.43,135.91 395.7,137.39 396.23,139.6 394.29,138.42 392.35,139.6 392.88,137.39 391.15,135.91 393.42,135.73" fill="none" stroke="#7a0a0a" stroke-width="1.4" stroke-linejoin="miter"/>
<polygon points="411.14,120.36 412.01,122.46 414.28,122.64 412.55,124.12 413.08,126.33 411.14,125.15 409.2,126.33 409.73,124.12 408,122.64 410.27,122.46" fill="none" stroke="#7a0a0a" stroke-width="1.4" stroke-linejoin="miter"/>
<polygon points="427.98,107.62 428.86,109.72 431.12,109.9 429.4,111.38 429.92,113.59 427.98,112.4 426.04,113.59 426.57,111.38 424.85,109.9 427.11,109.72" fill="none" stroke="#7a0a0a" stroke-width="1.4" stroke-linejoin="miter"/>
<polygon points="444.83,91.93 445.7,94.03 447.97,94.21 446.24,95.69 446.77,97.9 444.83,96.72 442.89,97.9 443.42,95.69 441.69,94.21 443.96,94.03" fill="none" stroke="#7a0a0a" stroke-width="1.4" stroke-linejoin="miter"/>
<polygon points="461.68,76.9 462.55,79 464.81,79.18 463.09,80.66 463.62,82.87 461.68,81.68 459.74,82.87 460.26,80.66 458.54,79.18 460.8,79" fill="none" stroke="#7a0a0a" stroke-width="1.4" stroke-linejoin="miter"/>
<polygon points="478.52,67.75 479.39,69.85 481.66,70.03 479.93,71.51 480.46,73.72 478.52,72.53 476.58,73.72 477.11,71.51 475.38,70.03 477.65,69.85" fill="none" stroke="#7a0a0a" stroke-width="1.4" stroke-linejoin="miter"/>
<polygon points="495.37,58.99 496.24,61.09 498.51,61.27 496.78,62.75 497.31,64.96 495.37,63.78 493.43,64.96 493.96,62.75 492.23,61.27 494.5,61.09" fill="none" stroke="#7a0a0a" stroke-width="1.4" stroke-linejoin="miter"/>
<polygon points="512.21,52.98 513.09,55.08 515.35,55.26 513.63,56.74 514.15,58.95 512.21,57.76 510.27,58.95 510.8,56.74 509.08,55.26 511.34,55.08" fill="none" stroke="#7a0a0a" stroke-width="1.4" stroke-linejoin="miter"/>
<polygon points="529.06,46.38 529.93,48.47 532.2,48.66 530.47,50.13 531,52.35 529.06,51.16 527.12,52.35 527.65,50.13 525.92,48.66 528.19,48.47" fill="none" stroke="#7a0a0a" stroke-width="1.4" stroke-linejoin="miter"/>
<polygon points="545.91,39.77 546.78,41.87 549.04,42.05 547.32,43.53 547.85,45.74 545.91,44.56 543.97,45.74 544.49,43.53 542.77,42.05 545.03,41.87" fill="none" stroke="#7a0a0a" stroke-width="1.4" stroke-linejoin="miter"/>
<polygon points="562.75,33.3 563.62,35.4 565.89,35.58 564.16,37.06 564.69,39.27 562.75,38.09 560.81,39.27 561.34,37.06 559.61,35.58 561.88,35.4" fill="none" stroke="#7a0a0a" stroke-width="1.4" stroke-linejoin="miter"/>
<line x1="377.5" y1="171.4" x2="545.9" y2="162.4" stroke="#ff1414" stroke-width="1.5" />
<line x1="377.5" y1="167.8" x2="545.9" y2="151.4" stroke="#ff1414" stroke-width="1.5" />
<line x1="377.5" y1="168.2" x2="563.2" y2="136.8" stroke="#ff1414" stroke-width="1.5" />
<line x1="377.5" y1="141.9" x2="562.9" y2="26.8" stroke="#ff1414" stroke-width="1.6" />
<circle cx="377" cy="28.3" r="2.9" fill="none" stroke="#111" stroke-width="1.2"/>
<rect x="374.6" y="38.5" width="4.8" height="4.8" fill="none" stroke="#1f9a1f" stroke-width="1.3"/>
<polygon points="377,50.67 380.3,56.39 373.7,56.39" fill="none" stroke="#1010ff" stroke-width="1.3" stroke-linejoin="miter"/>
<polygon points="377,64.4 377.77,66.24 379.76,66.4 378.24,67.7 378.7,69.65 377,68.61 375.3,69.65 375.76,67.7 374.24,66.4 376.23,66.24" fill="none" stroke="#7a0a0a" stroke-width="1.3" stroke-linejoin="miter"/>
<line x1="367.5" y1="80.8" x2="386" y2="80.8" stroke="#ff1414" stroke-width="1.6" />
<text x="389.3" y="31.3" font-size="10.8" text-anchor="start" font-weight="normal" fill="#1a1a1a" >YIG (100)</text>
<text x="389.3" y="43.9" font-size="10.8" text-anchor="start" font-weight="normal" fill="#1a1a1a" >YIG (111)</text>
<text x="389.3" y="57.1" font-size="10.8" text-anchor="start" font-weight="normal" fill="#1a1a1a" >BYG (100)</text>
<text x="389.3" y="70.3" font-size="10.8" text-anchor="start" font-weight="normal" fill="#1a1a1a" >BYG (111)</text>
<text x="389.3" y="83.8" font-size="10.8" text-anchor="start" font-weight="normal" fill="#1a1a1a" >LLG Fitted</text>
<rect x="360.6" y="16.8" width="219" height="163.4" fill="none" stroke="#1a1a1a" stroke-width="1.3"/>
<rect x="511.4" y="61.6" width="63.80000000000007" height="57.6" fill="#fff"/>
<line x1="511.6" y1="119.2" x2="511.6" y2="116.7" stroke="#1a1a1a" stroke-width="0.8" />
<line x1="511.6" y1="61.6" x2="511.6" y2="64.1" stroke="#1a1a1a" stroke-width="0.8" />
<line x1="521.4" y1="119.2" x2="521.4" y2="116.7" stroke="#1a1a1a" stroke-width="0.8" />
<line x1="521.4" y1="61.6" x2="521.4" y2="64.1" stroke="#1a1a1a" stroke-width="0.8" />
<line x1="531.2" y1="119.2" x2="531.2" y2="116.7" stroke="#1a1a1a" stroke-width="0.8" />
<line x1="531.2" y1="61.6" x2="531.2" y2="64.1" stroke="#1a1a1a" stroke-width="0.8" />
<line x1="541" y1="119.2" x2="541" y2="116.7" stroke="#1a1a1a" stroke-width="0.8" />
<line x1="541" y1="61.6" x2="541" y2="64.1" stroke="#1a1a1a" stroke-width="0.8" />
<line x1="550.8" y1="119.2" x2="550.8" y2="116.7" stroke="#1a1a1a" stroke-width="0.8" />
<line x1="550.8" y1="61.6" x2="550.8" y2="64.1" stroke="#1a1a1a" stroke-width="0.8" />
<line x1="560.6" y1="119.2" x2="560.6" y2="116.7" stroke="#1a1a1a" stroke-width="0.8" />
<line x1="560.6" y1="61.6" x2="560.6" y2="64.1" stroke="#1a1a1a" stroke-width="0.8" />
<line x1="570.4" y1="119.2" x2="570.4" y2="116.7" stroke="#1a1a1a" stroke-width="0.8" />
<line x1="570.4" y1="61.6" x2="570.4" y2="64.1" stroke="#1a1a1a" stroke-width="0.8" />
<line x1="516.5" y1="119.2" x2="516.5" y2="117.7" stroke="#1a1a1a" stroke-width="0.8" />
<line x1="516.5" y1="61.6" x2="516.5" y2="63.1" stroke="#1a1a1a" stroke-width="0.8" />
<line x1="526.3" y1="119.2" x2="526.3" y2="117.7" stroke="#1a1a1a" stroke-width="0.8" />
<line x1="526.3" y1="61.6" x2="526.3" y2="63.1" stroke="#1a1a1a" stroke-width="0.8" />
<line x1="536.1" y1="119.2" x2="536.1" y2="117.7" stroke="#1a1a1a" stroke-width="0.8" />
<line x1="536.1" y1="61.6" x2="536.1" y2="63.1" stroke="#1a1a1a" stroke-width="0.8" />
<line x1="545.9" y1="119.2" x2="545.9" y2="117.7" stroke="#1a1a1a" stroke-width="0.8" />
<line x1="545.9" y1="61.6" x2="545.9" y2="63.1" stroke="#1a1a1a" stroke-width="0.8" />
<line x1="555.7" y1="119.2" x2="555.7" y2="117.7" stroke="#1a1a1a" stroke-width="0.8" />
<line x1="555.7" y1="61.6" x2="555.7" y2="63.1" stroke="#1a1a1a" stroke-width="0.8" />
<line x1="565.5" y1="119.2" x2="565.5" y2="117.7" stroke="#1a1a1a" stroke-width="0.8" />
<line x1="565.5" y1="61.6" x2="565.5" y2="63.1" stroke="#1a1a1a" stroke-width="0.8" />
<line x1="575.3" y1="119.2" x2="575.3" y2="117.7" stroke="#1a1a1a" stroke-width="0.8" />
<line x1="575.3" y1="61.6" x2="575.3" y2="63.1" stroke="#1a1a1a" stroke-width="0.8" />
<line x1="511.4" y1="119.2" x2="513.9" y2="119.2" stroke="#1a1a1a" stroke-width="0.8" />
<line x1="575.2" y1="119.2" x2="572.7" y2="119.2" stroke="#1a1a1a" stroke-width="0.8" />
<line x1="511.4" y1="86.6" x2="513.9" y2="86.6" stroke="#1a1a1a" stroke-width="0.8" />
<line x1="575.2" y1="86.6" x2="572.7" y2="86.6" stroke="#1a1a1a" stroke-width="0.8" />
<line x1="511.4" y1="111.05" x2="512.9" y2="111.05" stroke="#1a1a1a" stroke-width="0.8" />
<line x1="575.2" y1="111.05" x2="573.7" y2="111.05" stroke="#1a1a1a" stroke-width="0.8" />
<line x1="511.4" y1="102.9" x2="512.9" y2="102.9" stroke="#1a1a1a" stroke-width="0.8" />
<line x1="575.2" y1="102.9" x2="573.7" y2="102.9" stroke="#1a1a1a" stroke-width="0.8" />
<line x1="511.4" y1="94.75" x2="512.9" y2="94.75" stroke="#1a1a1a" stroke-width="0.8" />
<line x1="575.2" y1="94.75" x2="573.7" y2="94.75" stroke="#1a1a1a" stroke-width="0.8" />
<line x1="511.4" y1="78.45" x2="512.9" y2="78.45" stroke="#1a1a1a" stroke-width="0.8" />
<line x1="575.2" y1="78.45" x2="573.7" y2="78.45" stroke="#1a1a1a" stroke-width="0.8" />
<line x1="511.4" y1="70.3" x2="512.9" y2="70.3" stroke="#1a1a1a" stroke-width="0.8" />
<line x1="575.2" y1="70.3" x2="573.7" y2="70.3" stroke="#1a1a1a" stroke-width="0.8" />
<line x1="511.4" y1="62.15" x2="512.9" y2="62.15" stroke="#1a1a1a" stroke-width="0.8" />
<line x1="575.2" y1="62.15" x2="573.7" y2="62.15" stroke="#1a1a1a" stroke-width="0.8" />
<line x1="516.5" y1="111.8" x2="565.6" y2="90.9" stroke="#ff1414" stroke-width="1.0" />
<line x1="516.5" y1="106.9" x2="565.8" y2="62.8" stroke="#ff1414" stroke-width="1.5" />
<circle cx="516.5" cy="115.61" r="1.9" fill="none" stroke="#111" stroke-width="1.0"/>
<circle cx="521.4" cy="113.17" r="1.9" fill="none" stroke="#111" stroke-width="1.0"/>
<circle cx="526.3" cy="109.75" r="1.9" fill="none" stroke="#111" stroke-width="1.0"/>
<circle cx="531.2" cy="106.65" r="1.9" fill="none" stroke="#111" stroke-width="1.0"/>
<circle cx="536.1" cy="102.9" r="1.9" fill="none" stroke="#111" stroke-width="1.0"/>
<circle cx="541" cy="98.5" r="1.9" fill="none" stroke="#111" stroke-width="1.0"/>
<circle cx="550.8" cy="94.91" r="1.9" fill="none" stroke="#111" stroke-width="1.0"/>
<circle cx="560.6" cy="94.75" r="1.9" fill="none" stroke="#111" stroke-width="1.0"/>
<circle cx="565.5" cy="94.75" r="1.9" fill="none" stroke="#111" stroke-width="1.0"/>
<rect x="514.85" y="112.33" width="3.3" height="3.3" fill="none" stroke="#1f9a1f" stroke-width="1.1"/>
<rect x="519.75" y="104.84" width="3.3" height="3.3" fill="none" stroke="#1f9a1f" stroke-width="1.1"/>
<rect x="524.65" y="96.03" width="3.3" height="3.3" fill="none" stroke="#1f9a1f" stroke-width="1.1"/>
<rect x="529.55" y="87.88" width="3.3" height="3.3" fill="none" stroke="#1f9a1f" stroke-width="1.1"/>
<rect x="534.45" y="82.99" width="3.3" height="3.3" fill="none" stroke="#1f9a1f" stroke-width="1.1"/>
<rect x="539.35" y="77.45" width="3.3" height="3.3" fill="none" stroke="#1f9a1f" stroke-width="1.1"/>
<rect x="549.15" y="68.65" width="3.3" height="3.3" fill="none" stroke="#1f9a1f" stroke-width="1.1"/>
<rect x="558.95" y="68.32" width="3.3" height="3.3" fill="none" stroke="#1f9a1f" stroke-width="1.1"/>
<rect x="563.85" y="68.32" width="3.3" height="3.3" fill="none" stroke="#1f9a1f" stroke-width="1.1"/>
<text x="511.6" y="129.3" font-size="9.5" text-anchor="middle" font-weight="normal" fill="#1a1a1a" >0</text>
<text x="521.4" y="129.3" font-size="9.5" text-anchor="middle" font-weight="normal" fill="#1a1a1a" >2</text>
<text x="531.2" y="129.3" font-size="9.5" text-anchor="middle" font-weight="normal" fill="#1a1a1a" >4</text>
<text x="541" y="129.3" font-size="9.5" text-anchor="middle" font-weight="normal" fill="#1a1a1a" >6</text>
<text x="550.8" y="129.3" font-size="9.5" text-anchor="middle" font-weight="normal" fill="#1a1a1a" >8</text>
<text x="560.6" y="129.3" font-size="9.5" text-anchor="middle" font-weight="normal" fill="#1a1a1a" >10</text>
<text x="570.4" y="129.3" font-size="9.5" text-anchor="middle" font-weight="normal" fill="#1a1a1a" >12</text>
<text x="509.8" y="89.8" font-size="9.5" text-anchor="end" font-weight="normal" fill="#1a1a1a" >0.028</text>
<text x="509.8" y="122" font-size="9.5" text-anchor="end" font-weight="normal" fill="#1a1a1a" >0.026</text>
<text transform="translate(488,99) rotate(-90)" font-size="8" text-anchor="middle" fill="#1a1a1a">ΔH (kOe)</text>
<text x="536" y="134.6" font-size="9.2" text-anchor="middle" font-weight="normal" fill="#1a1a1a" >f(GHz)</text>
<rect x="511.4" y="61.6" width="63.8" height="57.6" fill="none" stroke="#1a1a1a" stroke-width="1.0"/>
<text x="0" y="249.8" font-size="27" text-anchor="start" font-weight="normal" fill="#1a1a1a" >(c)</text>
<line x1="51" y1="431.4" x2="51" y2="426.9" stroke="#1a1a1a" stroke-width="1.0" />
<line x1="51" y1="247.3" x2="51" y2="251.8" stroke="#1a1a1a" stroke-width="1.0" />
<line x1="88.27" y1="431.4" x2="88.27" y2="426.9" stroke="#1a1a1a" stroke-width="1.0" />
<line x1="88.27" y1="247.3" x2="88.27" y2="251.8" stroke="#1a1a1a" stroke-width="1.0" />
<line x1="125.53" y1="431.4" x2="125.53" y2="426.9" stroke="#1a1a1a" stroke-width="1.0" />
<line x1="125.53" y1="247.3" x2="125.53" y2="251.8" stroke="#1a1a1a" stroke-width="1.0" />
<line x1="162.8" y1="431.4" x2="162.8" y2="426.9" stroke="#1a1a1a" stroke-width="1.0" />
<line x1="162.8" y1="247.3" x2="162.8" y2="251.8" stroke="#1a1a1a" stroke-width="1.0" />
<line x1="200.06" y1="431.4" x2="200.06" y2="426.9" stroke="#1a1a1a" stroke-width="1.0" />
<line x1="200.06" y1="247.3" x2="200.06" y2="251.8" stroke="#1a1a1a" stroke-width="1.0" />
<line x1="237.33" y1="431.4" x2="237.33" y2="426.9" stroke="#1a1a1a" stroke-width="1.0" />
<line x1="237.33" y1="247.3" x2="237.33" y2="251.8" stroke="#1a1a1a" stroke-width="1.0" />
<line x1="274.6" y1="431.4" x2="274.6" y2="426.9" stroke="#1a1a1a" stroke-width="1.0" />
<line x1="274.6" y1="247.3" x2="274.6" y2="251.8" stroke="#1a1a1a" stroke-width="1.0" />
<line x1="47.89" y1="431.4" x2="47.89" y2="428.9" stroke="#1a1a1a" stroke-width="1.0" />
<line x1="47.89" y1="247.3" x2="47.89" y2="249.8" stroke="#1a1a1a" stroke-width="1.0" />
<line x1="54.11" y1="431.4" x2="54.11" y2="428.9" stroke="#1a1a1a" stroke-width="1.0" />
<line x1="54.11" y1="247.3" x2="54.11" y2="249.8" stroke="#1a1a1a" stroke-width="1.0" />
<line x1="57.21" y1="431.4" x2="57.21" y2="428.9" stroke="#1a1a1a" stroke-width="1.0" />
<line x1="57.21" y1="247.3" x2="57.21" y2="249.8" stroke="#1a1a1a" stroke-width="1.0" />
<line x1="60.32" y1="431.4" x2="60.32" y2="428.9" stroke="#1a1a1a" stroke-width="1.0" />
<line x1="60.32" y1="247.3" x2="60.32" y2="249.8" stroke="#1a1a1a" stroke-width="1.0" />
<line x1="63.42" y1="431.4" x2="63.42" y2="428.9" stroke="#1a1a1a" stroke-width="1.0" />
<line x1="63.42" y1="247.3" x2="63.42" y2="249.8" stroke="#1a1a1a" stroke-width="1.0" />
<line x1="66.53" y1="431.4" x2="66.53" y2="428.9" stroke="#1a1a1a" stroke-width="1.0" />
<line x1="66.53" y1="247.3" x2="66.53" y2="249.8" stroke="#1a1a1a" stroke-width="1.0" />
<line x1="69.63" y1="431.4" x2="69.63" y2="428.9" stroke="#1a1a1a" stroke-width="1.0" />
<line x1="69.63" y1="247.3" x2="69.63" y2="249.8" stroke="#1a1a1a" stroke-width="1.0" />
<line x1="72.74" y1="431.4" x2="72.74" y2="428.9" stroke="#1a1a1a" stroke-width="1.0" />
<line x1="72.74" y1="247.3" x2="72.74" y2="249.8" stroke="#1a1a1a" stroke-width="1.0" />
<line x1="75.84" y1="431.4" x2="75.84" y2="428.9" stroke="#1a1a1a" stroke-width="1.0" />
<line x1="75.84" y1="247.3" x2="75.84" y2="249.8" stroke="#1a1a1a" stroke-width="1.0" />
<line x1="78.95" y1="431.4" x2="78.95" y2="428.9" stroke="#1a1a1a" stroke-width="1.0" />
<line x1="78.95" y1="247.3" x2="78.95" y2="249.8" stroke="#1a1a1a" stroke-width="1.0" />
<line x1="82.06" y1="431.4" x2="82.06" y2="428.9" stroke="#1a1a1a" stroke-width="1.0" />
<line x1="82.06" y1="247.3" x2="82.06" y2="249.8" stroke="#1a1a1a" stroke-width="1.0" />
<line x1="85.16" y1="431.4" x2="85.16" y2="428.9" stroke="#1a1a1a" stroke-width="1.0" />
<line x1="85.16" y1="247.3" x2="85.16" y2="249.8" stroke="#1a1a1a" stroke-width="1.0" />
<line x1="91.37" y1="431.4" x2="91.37" y2="428.9" stroke="#1a1a1a" stroke-width="1.0" />
<line x1="91.37" y1="247.3" x2="91.37" y2="249.8" stroke="#1a1a1a" stroke-width="1.0" />
<line x1="94.48" y1="431.4" x2="94.48" y2="428.9" stroke="#1a1a1a" stroke-width="1.0" />
<line x1="94.48" y1="247.3" x2="94.48" y2="249.8" stroke="#1a1a1a" stroke-width="1.0" />
<line x1="97.58" y1="431.4" x2="97.58" y2="428.9" stroke="#1a1a1a" stroke-width="1.0" />
<line x1="97.58" y1="247.3" x2="97.58" y2="249.8" stroke="#1a1a1a" stroke-width="1.0" />
<line x1="100.69" y1="431.4" x2="100.69" y2="428.9" stroke="#1a1a1a" stroke-width="1.0" />
<line x1="100.69" y1="247.3" x2="100.69" y2="249.8" stroke="#1a1a1a" stroke-width="1.0" />
<line x1="103.79" y1="431.4" x2="103.79" y2="428.9" stroke="#1a1a1a" stroke-width="1.0" />
<line x1="103.79" y1="247.3" x2="103.79" y2="249.8" stroke="#1a1a1a" stroke-width="1.0" />
<line x1="106.9" y1="431.4" x2="106.9" y2="428.9" stroke="#1a1a1a" stroke-width="1.0" />
<line x1="106.9" y1="247.3" x2="106.9" y2="249.8" stroke="#1a1a1a" stroke-width="1.0" />
<line x1="110" y1="431.4" x2="110" y2="428.9" stroke="#1a1a1a" stroke-width="1.0" />
<line x1="110" y1="247.3" x2="110" y2="249.8" stroke="#1a1a1a" stroke-width="1.0" />
<line x1="113.11" y1="431.4" x2="113.11" y2="428.9" stroke="#1a1a1a" stroke-width="1.0" />
<line x1="113.11" y1="247.3" x2="113.11" y2="249.8" stroke="#1a1a1a" stroke-width="1.0" />
<line x1="116.22" y1="431.4" x2="116.22" y2="428.9" stroke="#1a1a1a" stroke-width="1.0" />
<line x1="116.22" y1="247.3" x2="116.22" y2="249.8" stroke="#1a1a1a" stroke-width="1.0" />
<line x1="119.32" y1="431.4" x2="119.32" y2="428.9" stroke="#1a1a1a" stroke-width="1.0" />
<line x1="119.32" y1="247.3" x2="119.32" y2="249.8" stroke="#1a1a1a" stroke-width="1.0" />
<line x1="122.43" y1="431.4" x2="122.43" y2="428.9" stroke="#1a1a1a" stroke-width="1.0" />
<line x1="122.43" y1="247.3" x2="122.43" y2="249.8" stroke="#1a1a1a" stroke-width="1.0" />
<line x1="128.64" y1="431.4" x2="128.64" y2="428.9" stroke="#1a1a1a" stroke-width="1.0" />
<line x1="128.64" y1="247.3" x2="128.64" y2="249.8" stroke="#1a1a1a" stroke-width="1.0" />
<line x1="131.74" y1="431.4" x2="131.74" y2="428.9" stroke="#1a1a1a" stroke-width="1.0" />
<line x1="131.74" y1="247.3" x2="131.74" y2="249.8" stroke="#1a1a1a" stroke-width="1.0" />
<line x1="134.85" y1="431.4" x2="134.85" y2="428.9" stroke="#1a1a1a" stroke-width="1.0" />
<line x1="134.85" y1="247.3" x2="134.85" y2="249.8" stroke="#1a1a1a" stroke-width="1.0" />
<line x1="137.95" y1="431.4" x2="137.95" y2="428.9" stroke="#1a1a1a" stroke-width="1.0" />
<line x1="137.95" y1="247.3" x2="137.95" y2="249.8" stroke="#1a1a1a" stroke-width="1.0" />
<line x1="141.06" y1="431.4" x2="141.06" y2="428.9" stroke="#1a1a1a" stroke-width="1.0" />
<line x1="141.06" y1="247.3" x2="141.06" y2="249.8" stroke="#1a1a1a" stroke-width="1.0" />
<line x1="144.16" y1="431.4" x2="144.16" y2="428.9" stroke="#1a1a1a" stroke-width="1.0" />
<line x1="144.16" y1="247.3" x2="144.16" y2="249.8" stroke="#1a1a1a" stroke-width="1.0" />
<line x1="147.27" y1="431.4" x2="147.27" y2="428.9" stroke="#1a1a1a" stroke-width="1.0" />
<line x1="147.27" y1="247.3" x2="147.27" y2="249.8" stroke="#1a1a1a" stroke-width="1.0" />
<line x1="150.38" y1="431.4" x2="150.38" y2="428.9" stroke="#1a1a1a" stroke-width="1.0" />
<line x1="150.38" y1="247.3" x2="150.38" y2="249.8" stroke="#1a1a1a" stroke-width="1.0" />
<line x1="153.48" y1="431.4" x2="153.48" y2="428.9" stroke="#1a1a1a" stroke-width="1.0" />
<line x1="153.48" y1="247.3" x2="153.48" y2="249.8" stroke="#1a1a1a" stroke-width="1.0" />
<line x1="156.59" y1="431.4" x2="156.59" y2="428.9" stroke="#1a1a1a" stroke-width="1.0" />
<line x1="156.59" y1="247.3" x2="156.59" y2="249.8" stroke="#1a1a1a" stroke-width="1.0" />
<line x1="159.69" y1="431.4" x2="159.69" y2="428.9" stroke="#1a1a1a" stroke-width="1.0" />
<line x1="159.69" y1="247.3" x2="159.69" y2="249.8" stroke="#1a1a1a" stroke-width="1.0" />
<line x1="165.9" y1="431.4" x2="165.9" y2="428.9" stroke="#1a1a1a" stroke-width="1.0" />
<line x1="165.9" y1="247.3" x2="165.9" y2="249.8" stroke="#1a1a1a" stroke-width="1.0" />
<line x1="169.01" y1="431.4" x2="169.01" y2="428.9" stroke="#1a1a1a" stroke-width="1.0" />
<line x1="169.01" y1="247.3" x2="169.01" y2="249.8" stroke="#1a1a1a" stroke-width="1.0" />
<line x1="172.11" y1="431.4" x2="172.11" y2="428.9" stroke="#1a1a1a" stroke-width="1.0" />
<line x1="172.11" y1="247.3" x2="172.11" y2="249.8" stroke="#1a1a1a" stroke-width="1.0" />
<line x1="175.22" y1="431.4" x2="175.22" y2="428.9" stroke="#1a1a1a" stroke-width="1.0" />
<line x1="175.22" y1="247.3" x2="175.22" y2="249.8" stroke="#1a1a1a" stroke-width="1.0" />
<line x1="178.33" y1="431.4" x2="178.33" y2="428.9" stroke="#1a1a1a" stroke-width="1.0" />
<line x1="178.33" y1="247.3" x2="178.33" y2="249.8" stroke="#1a1a1a" stroke-width="1.0" />
<line x1="181.43" y1="431.4" x2="181.43" y2="428.9" stroke="#1a1a1a" stroke-width="1.0" />
<line x1="181.43" y1="247.3" x2="181.43" y2="249.8" stroke="#1a1a1a" stroke-width="1.0" />
<line x1="184.54" y1="431.4" x2="184.54" y2="428.9" stroke="#1a1a1a" stroke-width="1.0" />
<line x1="184.54" y1="247.3" x2="184.54" y2="249.8" stroke="#1a1a1a" stroke-width="1.0" />
<line x1="187.64" y1="431.4" x2="187.64" y2="428.9" stroke="#1a1a1a" stroke-width="1.0" />
<line x1="187.64" y1="247.3" x2="187.64" y2="249.8" stroke="#1a1a1a" stroke-width="1.0" />
<line x1="190.75" y1="431.4" x2="190.75" y2="428.9" stroke="#1a1a1a" stroke-width="1.0" />
<line x1="190.75" y1="247.3" x2="190.75" y2="249.8" stroke="#1a1a1a" stroke-width="1.0" />
<line x1="193.85" y1="431.4" x2="193.85" y2="428.9" stroke="#1a1a1a" stroke-width="1.0" />
<line x1="193.85" y1="247.3" x2="193.85" y2="249.8" stroke="#1a1a1a" stroke-width="1.0" />
<line x1="196.96" y1="431.4" x2="196.96" y2="428.9" stroke="#1a1a1a" stroke-width="1.0" />
<line x1="196.96" y1="247.3" x2="196.96" y2="249.8" stroke="#1a1a1a" stroke-width="1.0" />
<line x1="203.17" y1="431.4" x2="203.17" y2="428.9" stroke="#1a1a1a" stroke-width="1.0" />
<line x1="203.17" y1="247.3" x2="203.17" y2="249.8" stroke="#1a1a1a" stroke-width="1.0" />
<line x1="206.28" y1="431.4" x2="206.28" y2="428.9" stroke="#1a1a1a" stroke-width="1.0" />
<line x1="206.28" y1="247.3" x2="206.28" y2="249.8" stroke="#1a1a1a" stroke-width="1.0" />
<line x1="209.38" y1="431.4" x2="209.38" y2="428.9" stroke="#1a1a1a" stroke-width="1.0" />
<line x1="209.38" y1="247.3" x2="209.38" y2="249.8" stroke="#1a1a1a" stroke-width="1.0" />
<line x1="212.49" y1="431.4" x2="212.49" y2="428.9" stroke="#1a1a1a" stroke-width="1.0" />
<line x1="212.49" y1="247.3" x2="212.49" y2="249.8" stroke="#1a1a1a" stroke-width="1.0" />
<line x1="215.59" y1="431.4" x2="215.59" y2="428.9" stroke="#1a1a1a" stroke-width="1.0" />
<line x1="215.59" y1="247.3" x2="215.59" y2="249.8" stroke="#1a1a1a" stroke-width="1.0" />
<line x1="218.7" y1="431.4" x2="218.7" y2="428.9" stroke="#1a1a1a" stroke-width="1.0" />
<line x1="218.7" y1="247.3" x2="218.7" y2="249.8" stroke="#1a1a1a" stroke-width="1.0" />
<line x1="221.8" y1="431.4" x2="221.8" y2="428.9" stroke="#1a1a1a" stroke-width="1.0" />
<line x1="221.8" y1="247.3" x2="221.8" y2="249.8" stroke="#1a1a1a" stroke-width="1.0" />
<line x1="224.91" y1="431.4" x2="224.91" y2="428.9" stroke="#1a1a1a" stroke-width="1.0" />
<line x1="224.91" y1="247.3" x2="224.91" y2="249.8" stroke="#1a1a1a" stroke-width="1.0" />
<line x1="228.01" y1="431.4" x2="228.01" y2="428.9" stroke="#1a1a1a" stroke-width="1.0" />
<line x1="228.01" y1="247.3" x2="228.01" y2="249.8" stroke="#1a1a1a" stroke-width="1.0" />
<line x1="231.12" y1="431.4" x2="231.12" y2="428.9" stroke="#1a1a1a" stroke-width="1.0" />
<line x1="231.12" y1="247.3" x2="231.12" y2="249.8" stroke="#1a1a1a" stroke-width="1.0" />
<line x1="234.22" y1="431.4" x2="234.22" y2="428.9" stroke="#1a1a1a" stroke-width="1.0" />
<line x1="234.22" y1="247.3" x2="234.22" y2="249.8" stroke="#1a1a1a" stroke-width="1.0" />
<line x1="240.44" y1="431.4" x2="240.44" y2="428.9" stroke="#1a1a1a" stroke-width="1.0" />
<line x1="240.44" y1="247.3" x2="240.44" y2="249.8" stroke="#1a1a1a" stroke-width="1.0" />
<line x1="243.54" y1="431.4" x2="243.54" y2="428.9" stroke="#1a1a1a" stroke-width="1.0" />
<line x1="243.54" y1="247.3" x2="243.54" y2="249.8" stroke="#1a1a1a" stroke-width="1.0" />
<line x1="246.65" y1="431.4" x2="246.65" y2="428.9" stroke="#1a1a1a" stroke-width="1.0" />
<line x1="246.65" y1="247.3" x2="246.65" y2="249.8" stroke="#1a1a1a" stroke-width="1.0" />
<line x1="249.75" y1="431.4" x2="249.75" y2="428.9" stroke="#1a1a1a" stroke-width="1.0" />
<line x1="249.75" y1="247.3" x2="249.75" y2="249.8" stroke="#1a1a1a" stroke-width="1.0" />
<line x1="252.86" y1="431.4" x2="252.86" y2="428.9" stroke="#1a1a1a" stroke-width="1.0" />
<line x1="252.86" y1="247.3" x2="252.86" y2="249.8" stroke="#1a1a1a" stroke-width="1.0" />
<line x1="255.96" y1="431.4" x2="255.96" y2="428.9" stroke="#1a1a1a" stroke-width="1.0" />
<line x1="255.96" y1="247.3" x2="255.96" y2="249.8" stroke="#1a1a1a" stroke-width="1.0" />
<line x1="259.07" y1="431.4" x2="259.07" y2="428.9" stroke="#1a1a1a" stroke-width="1.0" />
<line x1="259.07" y1="247.3" x2="259.07" y2="249.8" stroke="#1a1a1a" stroke-width="1.0" />
<line x1="262.17" y1="431.4" x2="262.17" y2="428.9" stroke="#1a1a1a" stroke-width="1.0" />
<line x1="262.17" y1="247.3" x2="262.17" y2="249.8" stroke="#1a1a1a" stroke-width="1.0" />
<line x1="265.28" y1="431.4" x2="265.28" y2="428.9" stroke="#1a1a1a" stroke-width="1.0" />
<line x1="265.28" y1="247.3" x2="265.28" y2="249.8" stroke="#1a1a1a" stroke-width="1.0" />
<line x1="268.38" y1="431.4" x2="268.38" y2="428.9" stroke="#1a1a1a" stroke-width="1.0" />
<line x1="268.38" y1="247.3" x2="268.38" y2="249.8" stroke="#1a1a1a" stroke-width="1.0" />
<line x1="271.49" y1="431.4" x2="271.49" y2="428.9" stroke="#1a1a1a" stroke-width="1.0" />
<line x1="271.49" y1="247.3" x2="271.49" y2="249.8" stroke="#1a1a1a" stroke-width="1.0" />
<line x1="47.7" y1="431.4" x2="52.2" y2="431.4" stroke="#1a1a1a" stroke-width="1.0" />
<line x1="275.6" y1="431.4" x2="271.1" y2="431.4" stroke="#1a1a1a" stroke-width="1.0" />
<line x1="47.7" y1="385.4" x2="52.2" y2="385.4" stroke="#1a1a1a" stroke-width="1.0" />
<line x1="275.6" y1="385.4" x2="271.1" y2="385.4" stroke="#1a1a1a" stroke-width="1.0" />
<line x1="47.7" y1="339.4" x2="52.2" y2="339.4" stroke="#1a1a1a" stroke-width="1.0" />
<line x1="275.6" y1="339.4" x2="271.1" y2="339.4" stroke="#1a1a1a" stroke-width="1.0" />
<line x1="47.7" y1="293.4" x2="52.2" y2="293.4" stroke="#1a1a1a" stroke-width="1.0" />
<line x1="275.6" y1="293.4" x2="271.1" y2="293.4" stroke="#1a1a1a" stroke-width="1.0" />
<line x1="47.7" y1="247.4" x2="52.2" y2="247.4" stroke="#1a1a1a" stroke-width="1.0" />
<line x1="275.6" y1="247.4" x2="271.1" y2="247.4" stroke="#1a1a1a" stroke-width="1.0" />
<line x1="47.7" y1="426.8" x2="50.2" y2="426.8" stroke="#1a1a1a" stroke-width="1.0" />
<line x1="275.6" y1="426.8" x2="273.1" y2="426.8" stroke="#1a1a1a" stroke-width="1.0" />
<line x1="47.7" y1="422.2" x2="50.2" y2="422.2" stroke="#1a1a1a" stroke-width="1.0" />
<line x1="275.6" y1="422.2" x2="273.1" y2="422.2" stroke="#1a1a1a" stroke-width="1.0" />
<line x1="47.7" y1="417.6" x2="50.2" y2="417.6" stroke="#1a1a1a" stroke-width="1.0" />
<line x1="275.6" y1="417.6" x2="273.1" y2="417.6" stroke="#1a1a1a" stroke-width="1.0" />
<line x1="47.7" y1="413" x2="50.2" y2="413" stroke="#1a1a1a" stroke-width="1.0" />
<line x1="275.6" y1="413" x2="273.1" y2="413" stroke="#1a1a1a" stroke-width="1.0" />
<line x1="47.7" y1="408.4" x2="50.2" y2="408.4" stroke="#1a1a1a" stroke-width="1.0" />
<line x1="275.6" y1="408.4" x2="273.1" y2="408.4" stroke="#1a1a1a" stroke-width="1.0" />
<line x1="47.7" y1="403.8" x2="50.2" y2="403.8" stroke="#1a1a1a" stroke-width="1.0" />
<line x1="275.6" y1="403.8" x2="273.1" y2="403.8" stroke="#1a1a1a" stroke-width="1.0" />
<line x1="47.7" y1="399.2" x2="50.2" y2="399.2" stroke="#1a1a1a" stroke-width="1.0" />
<line x1="275.6" y1="399.2" x2="273.1" y2="399.2" stroke="#1a1a1a" stroke-width="1.0" />
<line x1="47.7" y1="394.6" x2="50.2" y2="394.6" stroke="#1a1a1a" stroke-width="1.0" />
<line x1="275.6" y1="394.6" x2="273.1" y2="394.6" stroke="#1a1a1a" stroke-width="1.0" />
<line x1="47.7" y1="390" x2="50.2" y2="390" stroke="#1a1a1a" stroke-width="1.0" />
<line x1="275.6" y1="390" x2="273.1" y2="390" stroke="#1a1a1a" stroke-width="1.0" />
<line x1="47.7" y1="380.8" x2="50.2" y2="380.8" stroke="#1a1a1a" stroke-width="1.0" />
<line x1="275.6" y1="380.8" x2="273.1" y2="380.8" stroke="#1a1a1a" stroke-width="1.0" />
<line x1="47.7" y1="376.2" x2="50.2" y2="376.2" stroke="#1a1a1a" stroke-width="1.0" />
<line x1="275.6" y1="376.2" x2="273.1" y2="376.2" stroke="#1a1a1a" stroke-width="1.0" />
<line x1="47.7" y1="371.6" x2="50.2" y2="371.6" stroke="#1a1a1a" stroke-width="1.0" />
<line x1="275.6" y1="371.6" x2="273.1" y2="371.6" stroke="#1a1a1a" stroke-width="1.0" />
<line x1="47.7" y1="367" x2="50.2" y2="367" stroke="#1a1a1a" stroke-width="1.0" />
<line x1="275.6" y1="367" x2="273.1" y2="367" stroke="#1a1a1a" stroke-width="1.0" />
<line x1="47.7" y1="362.4" x2="50.2" y2="362.4" stroke="#1a1a1a" stroke-width="1.0" />
<line x1="275.6" y1="362.4" x2="273.1" y2="362.4" stroke="#1a1a1a" stroke-width="1.0" />
<line x1="47.7" y1="357.8" x2="50.2" y2="357.8" stroke="#1a1a1a" stroke-width="1.0" />
<line x1="275.6" y1="357.8" x2="273.1" y2="357.8" stroke="#1a1a1a" stroke-width="1.0" />
<line x1="47.7" y1="353.2" x2="50.2" y2="353.2" stroke="#1a1a1a" stroke-width="1.0" />
<line x1="275.6" y1="353.2" x2="273.1" y2="353.2" stroke="#1a1a1a" stroke-width="1.0" />
<line x1="47.7" y1="348.6" x2="50.2" y2="348.6" stroke="#1a1a1a" stroke-width="1.0" />
<line x1="275.6" y1="348.6" x2="273.1" y2="348.6" stroke="#1a1a1a" stroke-width="1.0" />
<line x1="47.7" y1="344" x2="50.2" y2="344" stroke="#1a1a1a" stroke-width="1.0" />
<line x1="275.6" y1="344" x2="273.1" y2="344" stroke="#1a1a1a" stroke-width="1.0" />
<line x1="47.7" y1="334.8" x2="50.2" y2="334.8" stroke="#1a1a1a" stroke-width="1.0" />
<line x1="275.6" y1="334.8" x2="273.1" y2="334.8" stroke="#1a1a1a" stroke-width="1.0" />
<line x1="47.7" y1="330.2" x2="50.2" y2="330.2" stroke="#1a1a1a" stroke-width="1.0" />
<line x1="275.6" y1="330.2" x2="273.1" y2="330.2" stroke="#1a1a1a" stroke-width="1.0" />
<line x1="47.7" y1="325.6" x2="50.2" y2="325.6" stroke="#1a1a1a" stroke-width="1.0" />
<line x1="275.6" y1="325.6" x2="273.1" y2="325.6" stroke="#1a1a1a" stroke-width="1.0" />
<line x1="47.7" y1="321" x2="50.2" y2="321" stroke="#1a1a1a" stroke-width="1.0" />
<line x1="275.6" y1="321" x2="273.1" y2="321" stroke="#1a1a1a" stroke-width="1.0" />
<line x1="47.7" y1="316.4" x2="50.2" y2="316.4" stroke="#1a1a1a" stroke-width="1.0" />
<line x1="275.6" y1="316.4" x2="273.1" y2="316.4" stroke="#1a1a1a" stroke-width="1.0" />
<line x1="47.7" y1="311.8" x2="50.2" y2="311.8" stroke="#1a1a1a" stroke-width="1.0" />
<line x1="275.6" y1="311.8" x2="273.1" y2="311.8" stroke="#1a1a1a" stroke-width="1.0" />
<line x1="47.7" y1="307.2" x2="50.2" y2="307.2" stroke="#1a1a1a" stroke-width="1.0" />
<line x1="275.6" y1="307.2" x2="273.1" y2="307.2" stroke="#1a1a1a" stroke-width="1.0" />
<line x1="47.7" y1="302.6" x2="50.2" y2="302.6" stroke="#1a1a1a" stroke-width="1.0" />
<line x1="275.6" y1="302.6" x2="273.1" y2="302.6" stroke="#1a1a1a" stroke-width="1.0" />
<line x1="47.7" y1="298" x2="50.2" y2="298" stroke="#1a1a1a" stroke-width="1.0" />
<line x1="275.6" y1="298" x2="273.1" y2="298" stroke="#1a1a1a" stroke-width="1.0" />
<line x1="47.7" y1="288.8" x2="50.2" y2="288.8" stroke="#1a1a1a" stroke-width="1.0" />
<line x1="275.6" y1="288.8" x2="273.1" y2="288.8" stroke="#1a1a1a" stroke-width="1.0" />
<line x1="47.7" y1="284.2" x2="50.2" y2="284.2" stroke="#1a1a1a" stroke-width="1.0" />
<line x1="275.6" y1="284.2" x2="273.1" y2="284.2" stroke="#1a1a1a" stroke-width="1.0" />
<line x1="47.7" y1="279.6" x2="50.2" y2="279.6" stroke="#1a1a1a" stroke-width="1.0" />
<line x1="275.6" y1="279.6" x2="273.1" y2="279.6" stroke="#1a1a1a" stroke-width="1.0" />
<line x1="47.7" y1="275" x2="50.2" y2="275" stroke="#1a1a1a" stroke-width="1.0" />
<line x1="275.6" y1="275" x2="273.1" y2="275" stroke="#1a1a1a" stroke-width="1.0" />
<line x1="47.7" y1="270.4" x2="50.2" y2="270.4" stroke="#1a1a1a" stroke-width="1.0" />
<line x1="275.6" y1="270.4" x2="273.1" y2="270.4" stroke="#1a1a1a" stroke-width="1.0" />
<line x1="47.7" y1="265.8" x2="50.2" y2="265.8" stroke="#1a1a1a" stroke-width="1.0" />
<line x1="275.6" y1="265.8" x2="273.1" y2="265.8" stroke="#1a1a1a" stroke-width="1.0" />
<line x1="47.7" y1="261.2" x2="50.2" y2="261.2" stroke="#1a1a1a" stroke-width="1.0" />
<line x1="275.6" y1="261.2" x2="273.1" y2="261.2" stroke="#1a1a1a" stroke-width="1.0" />
<line x1="47.7" y1="256.6" x2="50.2" y2="256.6" stroke="#1a1a1a" stroke-width="1.0" />
<line x1="275.6" y1="256.6" x2="273.1" y2="256.6" stroke="#1a1a1a" stroke-width="1.0" />
<line x1="47.7" y1="252" x2="50.2" y2="252" stroke="#1a1a1a" stroke-width="1.0" />
<line x1="275.6" y1="252" x2="273.1" y2="252" stroke="#1a1a1a" stroke-width="1.0" />
<text x="51" y="446.9" font-size="14" text-anchor="middle" font-weight="normal" fill="#1a1a1a" >0</text>
<text x="88.27" y="446.9" font-size="14" text-anchor="middle" font-weight="normal" fill="#1a1a1a" >60</text>
<text x="125.53" y="446.9" font-size="14" text-anchor="middle" font-weight="normal" fill="#1a1a1a" >120</text>
<text x="162.8" y="446.9" font-size="14" text-anchor="middle" font-weight="normal" fill="#1a1a1a" >180</text>
<text x="200.06" y="446.9" font-size="14" text-anchor="middle" font-weight="normal" fill="#1a1a1a" >240</text>
<text x="237.33" y="446.9" font-size="14" text-anchor="middle" font-weight="normal" fill="#1a1a1a" >300</text>
<text x="274.6" y="446.9" font-size="14" text-anchor="middle" font-weight="normal" fill="#1a1a1a" >360</text>
<text x="40" y="436.2" font-size="14.5" text-anchor="middle" font-weight="normal" fill="#1a1a1a" >3</text>
<text x="40" y="390.2" font-size="14.5" text-anchor="middle" font-weight="normal" fill="#1a1a1a" >4</text>
<text x="40" y="344.2" font-size="14.5" text-anchor="middle" font-weight="normal" fill="#1a1a1a" >5</text>
<text x="40" y="298.2" font-size="14.5" text-anchor="middle" font-weight="normal" fill="#1a1a1a" >6</text>
<text x="40" y="252.2" font-size="14.5" text-anchor="middle" font-weight="normal" fill="#1a1a1a" >7</text>
<text x="53.8" y="244" font-size="14" text-anchor="start" font-weight="normal" fill="#1a1a1a" >BYG (100)</text>
<text x="51.2" y="261.4" font-size="11" fill="#1a1a1a">γ=2.75 GHz/kOe</text>
<text x="51.2" y="273.4" font-size="11" fill="#1a1a1a">M<tspan font-size="7.5" dy="2">s</tspan><tspan dy="-2">=1.651 kOe</tspan></text>
<text x="182.3" y="260" font-size="11" fill="#1a1a1a">H<tspan font-size="7.2" dy="2.5">k2</tspan><tspan dy="-2.5">=0.716±0.22 kOe</tspan></text>
<text x="201.5" y="274" font-size="11" fill="#1a1a1a">H<tspan font-size="7.2" dy="2.5">k1</tspan><tspan dy="-2.5">=0.202 kOe</tspan></text>
<circle cx="163.0" cy="290.0" r="29.6" fill="#fff" stroke="#777" stroke-width="0.6"/>
<polygon points="147.7,271.8 151.9,270.9 157.7,275.1 161.1,279.8 163.3,284.3 164,285.6 166,282.4 171,276.4 177.1,273 182,274.3 183.1,278.9 178.4,284.6 173.9,288.4 168.2,290.7 167.3,291.1 170.7,293.3 175.2,297.7 177.5,302.5 178.4,308.6 174.2,309.9 168.8,305.7 165,300.9 163.1,295.8 162.4,294.8 160.1,298.4 155,304.4 149,307.3 144.3,306.3 143.2,301.7 148.6,295.6 152.4,292.2 158,290.1 158.8,289.4 155.8,287.5 151.2,283.4 149,278.2" fill="none" stroke="#666" stroke-width="0.5"/>
<circle cx="147.7" cy="271.8" r="1.3" fill="#ff1a1a"/>
<circle cx="151.9" cy="270.9" r="1.3" fill="#ff1a1a"/>
<circle cx="157.7" cy="275.1" r="1.3" fill="#ff1a1a"/>
<circle cx="161.1" cy="279.8" r="1.3" fill="#ff1a1a"/>
<circle cx="163.3" cy="284.3" r="1.3" fill="#ff1a1a"/>
<circle cx="164" cy="285.6" r="1.3" fill="#ff1a1a"/>
<circle cx="166" cy="282.4" r="1.3" fill="#ff1a1a"/>
<circle cx="171" cy="276.4" r="1.3" fill="#ff1a1a"/>
<circle cx="177.1" cy="273" r="1.3" fill="#ff1a1a"/>
<circle cx="182" cy="274.3" r="1.3" fill="#ff1a1a"/>
<circle cx="183.1" cy="278.9" r="1.3" fill="#ff1a1a"/>
<circle cx="178.4" cy="284.6" r="1.3" fill="#ff1a1a"/>
<circle cx="173.9" cy="288.4" r="1.3" fill="#ff1a1a"/>
<circle cx="168.2" cy="290.7" r="1.3" fill="#ff1a1a"/>
<circle cx="167.3" cy="291.1" r="1.3" fill="#ff1a1a"/>
<circle cx="170.7" cy="293.3" r="1.3" fill="#ff1a1a"/>
<circle cx="175.2" cy="297.7" r="1.3" fill="#ff1a1a"/>
<circle cx="177.5" cy="302.5" r="1.3" fill="#ff1a1a"/>
<circle cx="178.4" cy="308.6" r="1.3" fill="#ff1a1a"/>
<circle cx="174.2" cy="309.9" r="1.3" fill="#ff1a1a"/>
<circle cx="168.8" cy="305.7" r="1.3" fill="#ff1a1a"/>
<circle cx="165" cy="300.9" r="1.3" fill="#ff1a1a"/>
<circle cx="163.1" cy="295.8" r="1.3" fill="#ff1a1a"/>
<circle cx="162.4" cy="294.8" r="1.3" fill="#ff1a1a"/>
<circle cx="160.1" cy="298.4" r="1.3" fill="#ff1a1a"/>
<circle cx="155" cy="304.4" r="1.3" fill="#ff1a1a"/>
<circle cx="149" cy="307.3" r="1.3" fill="#ff1a1a"/>
<circle cx="144.3" cy="306.3" r="1.3" fill="#ff1a1a"/>
<circle cx="143.2" cy="301.7" r="1.3" fill="#ff1a1a"/>
<circle cx="148.6" cy="295.6" r="1.3" fill="#ff1a1a"/>
<circle cx="152.4" cy="292.2" r="1.3" fill="#ff1a1a"/>
<circle cx="158" cy="290.1" r="1.3" fill="#ff1a1a"/>
<circle cx="158.8" cy="289.4" r="1.3" fill="#ff1a1a"/>
<circle cx="155.8" cy="287.5" r="1.3" fill="#ff1a1a"/>
<circle cx="151.2" cy="283.4" r="1.3" fill="#ff1a1a"/>
<circle cx="149" cy="278.2" r="1.3" fill="#ff1a1a"/>
<text x="195.85" y="291.7" font-size="5.0" font-weight="bold" text-anchor="middle" fill="#333">0</text>
<text x="196.51" y="282.72" font-size="5.0" font-weight="bold" text-anchor="middle" fill="#333">15</text>
<text x="193.37" y="274.17" font-size="5.0" font-weight="bold" text-anchor="middle" fill="#333">30</text>
<text x="187.89" y="266.81" font-size="5.0" font-weight="bold" text-anchor="middle" fill="#333">45</text>
<text x="180.55" y="261.3" font-size="5.0" font-weight="bold" text-anchor="middle" fill="#333">60</text>
<text x="172" y="258.13" font-size="5.0" font-weight="bold" text-anchor="middle" fill="#333">75</text>
<text x="163" y="257.5" font-size="5.0" font-weight="bold" text-anchor="middle" fill="#333">90</text>
<text x="153.92" y="257.81" font-size="5.0" font-weight="bold" text-anchor="middle" fill="#333">105</text>
<text x="145.14" y="260.76" font-size="5.0" font-weight="bold" text-anchor="middle" fill="#333">120</text>
<text x="137.48" y="266.18" font-size="5.0" font-weight="bold" text-anchor="middle" fill="#333">135</text>
<text x="131.7" y="273.63" font-size="5.0" font-weight="bold" text-anchor="middle" fill="#333">150</text>
<text x="128.33" y="282.41" font-size="5.0" font-weight="bold" text-anchor="middle" fill="#333">165</text>
<text x="127.65" y="291.7" font-size="5.0" font-weight="bold" text-anchor="middle" fill="#333">180</text>
<text x="128.33" y="300.99" font-size="5.0" font-weight="bold" text-anchor="middle" fill="#333">195</text>
<text x="131.7" y="309.77" font-size="5.0" font-weight="bold" text-anchor="middle" fill="#333">210</text>
<text x="137.48" y="317.22" font-size="5.0" font-weight="bold" text-anchor="middle" fill="#333">225</text>
<text x="145.14" y="322.64" font-size="5.0" font-weight="bold" text-anchor="middle" fill="#333">240</text>
<text x="153.92" y="325.59" font-size="5.0" font-weight="bold" text-anchor="middle" fill="#333">255</text>
<text x="163" y="325.9" font-size="5.0" font-weight="bold" text-anchor="middle" fill="#333">270</text>
<text x="172.08" y="325.59" font-size="5.0" font-weight="bold" text-anchor="middle" fill="#333">285</text>
<text x="180.86" y="322.64" font-size="5.0" font-weight="bold" text-anchor="middle" fill="#333">300</text>
<text x="188.52" y="317.22" font-size="5.0" font-weight="bold" text-anchor="middle" fill="#333">315</text>
<text x="194.3" y="309.77" font-size="5.0" font-weight="bold" text-anchor="middle" fill="#333">330</text>
<text x="197.67" y="300.99" font-size="5.0" font-weight="bold" text-anchor="middle" fill="#333">345</text>
<polyline points="51,412.73 51.62,412.72 52.24,412.67 52.86,412.6 53.48,412.49 54.11,412.36 54.73,412.19 55.35,411.99 55.97,411.77 56.59,411.5 57.21,411.21 57.83,410.88 58.45,410.51 59.07,410.11 59.7,409.67 60.32,409.2 60.94,408.68 61.56,408.13 62.18,407.54 62.8,406.9 63.42,406.23 64.04,405.51 64.66,404.75 65.29,403.95 65.91,403.1 66.53,402.21 67.15,401.28 67.77,400.3 68.39,399.28 69.01,398.21 69.63,397.1 70.25,395.95 70.88,394.75 71.5,393.5 72.12,392.21 72.74,390.87 73.36,389.5 73.98,388.07 74.6,386.6 75.22,385.09 75.84,383.53 76.47,381.93 77.09,380.29 77.71,378.6 78.33,376.86 78.95,375.09 79.57,373.26 80.19,371.4 80.81,369.5 81.43,367.55 82.06,365.56 82.68,363.53 83.3,361.47 83.92,359.36 84.54,357.23 85.16,355.05 85.78,352.85 86.4,350.62 87.02,348.36 87.64,346.08 88.27,343.78 88.89,341.47 89.51,339.14 90.13,336.81 90.75,334.48 91.37,332.16 91.99,329.85 92.61,327.55 93.23,325.28 93.86,323.04 94.48,320.83 95.1,318.67 95.72,316.57 96.34,314.52 96.96,312.54 97.58,310.63 98.2,308.8 98.82,307.07 99.45,305.43 100.07,303.89 100.69,302.46 101.31,301.15 101.93,299.96 102.55,298.89 103.17,297.96 103.79,297.16 104.41,296.51 105.04,295.99 105.66,295.62 106.28,295.4 106.9,295.33 107.52,295.4 108.14,295.62 108.76,295.99 109.38,296.51 110,297.16 110.63,297.96 111.25,298.89 111.87,299.96 112.49,301.15 113.11,302.46 113.73,303.89 114.35,305.43 114.97,307.07 115.59,308.8 116.22,310.63 116.84,312.54 117.46,314.52 118.08,316.57 118.7,318.67 119.32,320.83 119.94,323.04 120.56,325.28 121.18,327.55 121.81,329.85 122.43,332.16 123.05,334.48 123.67,336.81 124.29,339.14 124.91,341.47 125.53,343.78 126.15,346.08 126.77,348.36 127.4,350.62 128.02,352.85 128.64,355.05 129.26,357.23 129.88,359.36 130.5,361.47 131.12,363.53 131.74,365.56 132.36,367.55 132.99,369.5 133.61,371.4 134.23,373.26 134.85,375.09 135.47,376.86 136.09,378.6 136.71,380.29 137.33,381.93 137.95,383.53 138.58,385.09 139.2,386.6 139.82,388.07 140.44,389.5 141.06,390.87 141.68,392.21 142.3,393.5 142.92,394.75 143.54,395.95 144.16,397.1 144.79,398.21 145.41,399.28 146.03,400.3 146.65,401.28 147.27,402.21 147.89,403.1 148.51,403.95 149.13,404.75 149.75,405.51 150.38,406.23 151,406.9 151.62,407.54 152.24,408.13 152.86,408.68 153.48,409.2 154.1,409.67 154.72,410.11 155.34,410.51 155.97,410.88 156.59,411.21 157.21,411.5 157.83,411.77 158.45,411.99 159.07,412.19 159.69,412.36 160.31,412.49 160.93,412.6 161.56,412.67 162.18,412.72 162.8,412.73 163.42,412.72 164.04,412.67 164.66,412.6 165.28,412.49 165.9,412.36 166.52,412.19 167.15,411.99 167.77,411.77 168.39,411.5 169.01,411.21 169.63,410.88 170.25,410.51 170.87,410.11 171.49,409.67 172.11,409.2 172.74,408.68 173.36,408.13 173.98,407.54 174.6,406.9 175.22,406.23 175.84,405.51 176.46,404.75 177.08,403.95 177.7,403.1 178.33,402.21 178.95,401.28 179.57,400.3 180.19,399.28 180.81,398.21 181.43,397.1 182.05,395.95 182.67,394.75 183.29,393.5 183.92,392.21 184.54,390.87 185.16,389.5 185.78,388.07 186.4,386.6 187.02,385.09 187.64,383.53 188.26,381.93 188.88,380.29 189.51,378.6 190.13,376.86 190.75,375.09 191.37,373.26 191.99,371.4 192.61,369.5 193.23,367.55 193.85,365.56 194.47,363.53 195.1,361.47 195.72,359.36 196.34,357.23 196.96,355.05 197.58,352.85 198.2,350.62 198.82,348.36 199.44,346.08 200.06,343.78 200.69,341.47 201.31,339.14 201.93,336.81 202.55,334.48 203.17,332.16 203.79,329.85 204.41,327.55 205.03,325.28 205.65,323.04 206.28,320.83 206.9,318.67 207.52,316.57 208.14,314.52 208.76,312.54 209.38,310.63 210,308.8 210.62,307.07 211.24,305.43 211.86,303.89 212.49,302.46 213.11,301.15 213.73,299.96 214.35,298.89 214.97,297.96 215.59,297.16 216.21,296.51 216.83,295.99 217.45,295.62 218.08,295.4 218.7,295.33 219.32,295.4 219.94,295.62 220.56,295.99 221.18,296.51 221.8,297.16 222.42,297.96 223.04,298.89 223.67,299.96 224.29,301.15 224.91,302.46 225.53,303.89 226.15,305.43 226.77,307.07 227.39,308.8 228.01,310.63 228.63,312.54 229.26,314.52 229.88,316.57 230.5,318.67 231.12,320.83 231.74,323.04 232.36,325.28 232.98,327.55 233.6,329.85 234.22,332.16 234.85,334.48 235.47,336.81 236.09,339.14 236.71,341.47 237.33,343.78 237.95,346.08 238.57,348.36 239.19,350.62 239.81,352.85 240.44,355.05 241.06,357.23 241.68,359.36 242.3,361.47 242.92,363.53 243.54,365.56 244.16,367.55 244.78,369.5 245.4,371.4 246.03,373.26 246.65,375.09 247.27,376.86 247.89,378.6 248.51,380.29 249.13,381.93 249.75,383.53 250.37,385.09 250.99,386.6 251.62,388.07 252.24,389.5 252.86,390.87 253.48,392.21 254.1,393.5 254.72,394.75 255.34,395.95 255.96,397.1 256.58,398.21 257.21,399.28 257.83,400.3 258.45,401.28 259.07,402.21 259.69,403.1 260.31,403.95 260.93,404.75 261.55,405.51 262.17,406.23 262.8,406.9 263.42,407.54 264.04,408.13 264.66,408.68 265.28,409.2 265.9,409.67 266.52,410.11 267.14,410.51 267.76,410.88 268.38,411.21 269.01,411.5 269.63,411.77 270.25,411.99 270.87,412.19 271.49,412.36 272.11,412.49 272.73,412.6 273.35,412.67 273.97,412.72 274.6,412.73" fill="none" stroke="#ff1414" stroke-width="2.0" stroke-linejoin="round" stroke-linecap="round" />
<polygon points="51,410 51.79,411.91 53.85,412.07 52.28,413.42 52.76,415.43 51,414.35 49.24,415.43 49.72,413.42 48.15,412.07 50.21,411.91" fill="none" stroke="#7a0a0a" stroke-width="1.3" stroke-linejoin="miter"/>
<polygon points="57.21,405.86 58,407.77 60.06,407.93 58.49,409.28 58.97,411.29 57.21,410.21 55.45,411.29 55.93,409.28 54.36,407.93 56.42,407.77" fill="none" stroke="#7a0a0a" stroke-width="1.3" stroke-linejoin="miter"/>
<polygon points="63.42,402.18 64.22,404.09 66.28,404.25 64.71,405.6 65.19,407.61 63.42,406.53 61.66,407.61 62.14,405.6 60.57,404.25 62.63,404.09" fill="none" stroke="#7a0a0a" stroke-width="1.3" stroke-linejoin="miter"/>
<polygon points="69.63,392.98 70.43,394.89 72.49,395.05 70.92,396.4 71.4,398.41 69.63,397.33 67.87,398.41 68.35,396.4 66.78,395.05 68.84,394.89" fill="none" stroke="#7a0a0a" stroke-width="1.3" stroke-linejoin="miter"/>
<polygon points="75.84,378.72 76.64,380.63 78.7,380.79 77.13,382.14 77.61,384.15 75.84,383.07 74.08,384.15 74.56,382.14 72.99,380.79 75.05,380.63" fill="none" stroke="#7a0a0a" stroke-width="1.3" stroke-linejoin="miter"/>
<polygon points="82.06,360.32 82.85,362.23 84.91,362.39 83.34,363.74 83.82,365.75 82.06,364.67 80.29,365.75 80.77,363.74 79.2,362.39 81.26,362.23" fill="none" stroke="#7a0a0a" stroke-width="1.3" stroke-linejoin="miter"/>
<polygon points="88.27,337.32 89.06,339.23 91.12,339.39 89.55,340.74 90.03,342.75 88.27,341.67 86.5,342.75 86.98,340.74 85.41,339.39 87.47,339.23" fill="none" stroke="#7a0a0a" stroke-width="1.3" stroke-linejoin="miter"/>
<polygon points="94.48,314.32 95.27,316.23 97.33,316.39 95.76,317.74 96.24,319.75 94.48,318.67 92.71,319.75 93.19,317.74 91.62,316.39 93.68,316.23" fill="none" stroke="#7a0a0a" stroke-width="1.3" stroke-linejoin="miter"/>
<polygon points="100.69,301.9 101.48,303.81 103.54,303.97 101.97,305.32 102.45,307.33 100.69,306.25 98.92,307.33 99.4,305.32 97.83,303.97 99.89,303.81" fill="none" stroke="#7a0a0a" stroke-width="1.3" stroke-linejoin="miter"/>
<polygon points="106.9,289.02 107.69,290.93 109.75,291.09 108.18,292.44 108.66,294.45 106.9,293.37 105.14,294.45 105.62,292.44 104.05,291.09 106.11,290.93" fill="none" stroke="#7a0a0a" stroke-width="1.3" stroke-linejoin="miter"/>
<polygon points="113.11,301.9 113.9,303.81 115.96,303.97 114.39,305.32 114.87,307.33 113.11,306.25 111.35,307.33 111.83,305.32 110.26,303.97 112.32,303.81" fill="none" stroke="#7a0a0a" stroke-width="1.3" stroke-linejoin="miter"/>
<polygon points="119.32,319.84 120.11,321.75 122.17,321.91 120.6,323.26 121.08,325.27 119.32,324.19 117.56,325.27 118.04,323.26 116.47,321.91 118.53,321.75" fill="none" stroke="#7a0a0a" stroke-width="1.3" stroke-linejoin="miter"/>
<polygon points="125.53,343.76 126.33,345.67 128.39,345.83 126.82,347.18 127.3,349.19 125.53,348.11 123.77,349.19 124.25,347.18 122.68,345.83 124.74,345.67" fill="none" stroke="#7a0a0a" stroke-width="1.3" stroke-linejoin="miter"/>
<polygon points="131.74,365.38 132.54,367.29 134.6,367.45 133.03,368.8 133.51,370.81 131.74,369.73 129.98,370.81 130.46,368.8 128.89,367.45 130.95,367.29" fill="none" stroke="#7a0a0a" stroke-width="1.3" stroke-linejoin="miter"/>
<polygon points="137.95,381.94 138.75,383.85 140.81,384.01 139.24,385.36 139.72,387.37 137.95,386.29 136.19,387.37 136.67,385.36 135.1,384.01 137.16,383.85" fill="none" stroke="#7a0a0a" stroke-width="1.3" stroke-linejoin="miter"/>
<polygon points="144.16,395.74 144.96,397.65 147.02,397.81 145.45,399.16 145.93,401.17 144.16,400.09 142.4,401.17 142.88,399.16 141.31,397.81 143.37,397.65" fill="none" stroke="#7a0a0a" stroke-width="1.3" stroke-linejoin="miter"/>
<polygon points="150.38,404.48 151.17,406.39 153.23,406.55 151.66,407.9 152.14,409.91 150.38,408.83 148.61,409.91 149.09,407.9 147.52,406.55 149.58,406.39" fill="none" stroke="#7a0a0a" stroke-width="1.3" stroke-linejoin="miter"/>
<polygon points="156.59,408.62 157.38,410.53 159.44,410.69 157.87,412.04 158.35,414.05 156.59,412.97 154.82,414.05 155.3,412.04 153.73,410.69 155.79,410.53" fill="none" stroke="#7a0a0a" stroke-width="1.3" stroke-linejoin="miter"/>
<polygon points="162.8,410.92 163.59,412.83 165.65,412.99 164.08,414.34 164.56,416.35 162.8,415.27 161.03,416.35 161.51,414.34 159.94,412.99 162,412.83" fill="none" stroke="#7a0a0a" stroke-width="1.3" stroke-linejoin="miter"/>
<polygon points="169.01,407.79 169.8,409.7 171.86,409.86 170.29,411.21 170.77,413.22 169.01,412.14 167.25,413.22 167.73,411.21 166.16,409.86 168.22,409.7" fill="none" stroke="#7a0a0a" stroke-width="1.3" stroke-linejoin="miter"/>
<polygon points="175.22,402.59 176.01,404.5 178.07,404.67 176.5,406.01 176.98,408.02 175.22,406.94 173.46,408.02 173.94,406.01 172.37,404.67 174.43,404.5" fill="none" stroke="#7a0a0a" stroke-width="1.3" stroke-linejoin="miter"/>
<polygon points="181.43,395 182.22,396.91 184.28,397.08 182.71,398.42 183.19,400.43 181.43,399.35 179.67,400.43 180.15,398.42 178.58,397.08 180.64,396.91" fill="none" stroke="#7a0a0a" stroke-width="1.3" stroke-linejoin="miter"/>
<polygon points="187.64,379.64 188.44,381.55 190.5,381.71 188.93,383.06 189.41,385.07 187.64,383.99 185.88,385.07 186.36,383.06 184.79,381.71 186.85,381.55" fill="none" stroke="#7a0a0a" stroke-width="1.3" stroke-linejoin="miter"/>
<polygon points="193.85,361.01 194.65,362.92 196.71,363.08 195.14,364.43 195.62,366.44 193.85,365.36 192.09,366.44 192.57,364.43 191,363.08 193.06,362.92" fill="none" stroke="#7a0a0a" stroke-width="1.3" stroke-linejoin="miter"/>
<polygon points="200.06,340.22 200.86,342.13 202.92,342.29 201.35,343.64 201.83,345.65 200.06,344.57 198.3,345.65 198.78,343.64 197.21,342.29 199.27,342.13" fill="none" stroke="#7a0a0a" stroke-width="1.3" stroke-linejoin="miter"/>
<polygon points="206.28,305.4 207.07,307.3 209.13,307.47 207.56,308.81 208.04,310.82 206.28,309.75 204.51,310.82 204.99,308.81 203.42,307.47 205.48,307.3" fill="none" stroke="#7a0a0a" stroke-width="1.3" stroke-linejoin="miter"/>
<polygon points="212.49,291 213.28,292.91 215.34,293.07 213.77,294.42 214.25,296.43 212.49,295.35 210.72,296.43 211.2,294.42 209.63,293.07 211.69,292.91" fill="none" stroke="#7a0a0a" stroke-width="1.3" stroke-linejoin="miter"/>
<polygon points="218.7,289.99 219.49,291.89 221.55,292.06 219.98,293.4 220.46,295.41 218.7,294.34 216.93,295.41 217.41,293.4 215.84,292.06 217.9,291.89" fill="none" stroke="#7a0a0a" stroke-width="1.3" stroke-linejoin="miter"/>
<polygon points="224.91,302.22 225.7,304.13 227.76,304.29 226.19,305.64 226.67,307.65 224.91,306.57 223.14,307.65 223.62,305.64 222.05,304.29 224.11,304.13" fill="none" stroke="#7a0a0a" stroke-width="1.3" stroke-linejoin="miter"/>
<polygon points="231.12,320.39 231.91,322.3 233.97,322.46 232.4,323.81 232.88,325.82 231.12,324.74 229.36,325.82 229.84,323.81 228.27,322.46 230.33,322.3" fill="none" stroke="#7a0a0a" stroke-width="1.3" stroke-linejoin="miter"/>
<polygon points="237.33,344.4 238.12,346.31 240.18,346.48 238.61,347.82 239.09,349.83 237.33,348.75 235.57,349.83 236.05,347.82 234.48,346.48 236.54,346.31" fill="none" stroke="#7a0a0a" stroke-width="1.3" stroke-linejoin="miter"/>
<polygon points="243.54,365.2 244.33,367.1 246.39,367.27 244.82,368.61 245.3,370.62 243.54,369.55 241.78,370.62 242.26,368.61 240.69,367.27 242.75,367.1" fill="none" stroke="#7a0a0a" stroke-width="1.3" stroke-linejoin="miter"/>
<polygon points="249.75,382.22 250.55,384.12 252.61,384.29 251.04,385.63 251.52,387.64 249.75,386.57 247.99,387.64 248.47,385.63 246.9,384.29 248.96,384.12" fill="none" stroke="#7a0a0a" stroke-width="1.3" stroke-linejoin="miter"/>
<polygon points="255.96,395.6 256.76,397.51 258.82,397.67 257.25,399.02 257.73,401.03 255.96,399.95 254.2,401.03 254.68,399.02 253.11,397.67 255.17,397.51" fill="none" stroke="#7a0a0a" stroke-width="1.3" stroke-linejoin="miter"/>
<polygon points="262.17,404.62 262.97,406.53 265.03,406.69 263.46,408.04 263.94,410.05 262.17,408.97 260.41,410.05 260.89,408.04 259.32,406.69 261.38,406.53" fill="none" stroke="#7a0a0a" stroke-width="1.3" stroke-linejoin="miter"/>
<polygon points="268.38,407.79 269.18,409.7 271.24,409.86 269.67,411.21 270.15,413.22 268.38,412.14 266.62,413.22 267.1,411.21 265.53,409.86 267.59,409.7" fill="none" stroke="#7a0a0a" stroke-width="1.3" stroke-linejoin="miter"/>
<polygon points="274.6,410 275.39,411.91 277.45,412.07 275.88,413.42 276.36,415.43 274.6,414.35 272.83,415.43 273.31,413.42 271.74,412.07 273.8,411.91" fill="none" stroke="#7a0a0a" stroke-width="1.3" stroke-linejoin="miter"/>
<polygon points="82.4,401.9 83.11,403.62 84.97,403.77 83.56,404.98 83.99,406.78 82.4,405.81 80.81,406.78 81.24,404.98 79.83,403.77 81.69,403.62" fill="none" stroke="#7a0a0a" stroke-width="1.3" stroke-linejoin="miter"/>
<text x="91.5" y="408" font-size="11.3" text-anchor="start" font-weight="normal" fill="#1a1a1a" >Observed</text>
<line x1="73.3" y1="418.6" x2="91.6" y2="418.6" stroke="#ff1414" stroke-width="1.6" />
<text x="97.3" y="421.6" font-size="11.5" text-anchor="start" font-weight="normal" fill="#1a1a1a" >Fitting</text>
<rect x="47.7" y="247.3" width="227.9" height="184.1" fill="none" stroke="#1a1a1a" stroke-width="1.3"/>
<text x="309.8" y="248.2" font-size="27" text-anchor="start" font-weight="normal" fill="#1a1a1a" >(d)</text>
<line x1="366" y1="432.3" x2="366" y2="427.8" stroke="#1a1a1a" stroke-width="1.0" />
<line x1="366" y1="248.4" x2="366" y2="252.9" stroke="#1a1a1a" stroke-width="1.0" />
<line x1="403.45" y1="432.3" x2="403.45" y2="427.8" stroke="#1a1a1a" stroke-width="1.0" />
<line x1="403.45" y1="248.4" x2="403.45" y2="252.9" stroke="#1a1a1a" stroke-width="1.0" />
<line x1="440.9" y1="432.3" x2="440.9" y2="427.8" stroke="#1a1a1a" stroke-width="1.0" />
<line x1="440.9" y1="248.4" x2="440.9" y2="252.9" stroke="#1a1a1a" stroke-width="1.0" />
<line x1="478.36" y1="432.3" x2="478.36" y2="427.8" stroke="#1a1a1a" stroke-width="1.0" />
<line x1="478.36" y1="248.4" x2="478.36" y2="252.9" stroke="#1a1a1a" stroke-width="1.0" />
<line x1="515.81" y1="432.3" x2="515.81" y2="427.8" stroke="#1a1a1a" stroke-width="1.0" />
<line x1="515.81" y1="248.4" x2="515.81" y2="252.9" stroke="#1a1a1a" stroke-width="1.0" />
<line x1="553.26" y1="432.3" x2="553.26" y2="427.8" stroke="#1a1a1a" stroke-width="1.0" />
<line x1="553.26" y1="248.4" x2="553.26" y2="252.9" stroke="#1a1a1a" stroke-width="1.0" />
<line x1="590.71" y1="432.3" x2="590.71" y2="427.8" stroke="#1a1a1a" stroke-width="1.0" />
<line x1="590.71" y1="248.4" x2="590.71" y2="252.9" stroke="#1a1a1a" stroke-width="1.0" />
<line x1="362.88" y1="432.3" x2="362.88" y2="429.8" stroke="#1a1a1a" stroke-width="1.0" />
<line x1="362.88" y1="248.4" x2="362.88" y2="250.9" stroke="#1a1a1a" stroke-width="1.0" />
<line x1="369.12" y1="432.3" x2="369.12" y2="429.8" stroke="#1a1a1a" stroke-width="1.0" />
<line x1="369.12" y1="248.4" x2="369.12" y2="250.9" stroke="#1a1a1a" stroke-width="1.0" />
<line x1="372.24" y1="432.3" x2="372.24" y2="429.8" stroke="#1a1a1a" stroke-width="1.0" />
<line x1="372.24" y1="248.4" x2="372.24" y2="250.9" stroke="#1a1a1a" stroke-width="1.0" />
<line x1="375.36" y1="432.3" x2="375.36" y2="429.8" stroke="#1a1a1a" stroke-width="1.0" />
<line x1="375.36" y1="248.4" x2="375.36" y2="250.9" stroke="#1a1a1a" stroke-width="1.0" />
<line x1="378.48" y1="432.3" x2="378.48" y2="429.8" stroke="#1a1a1a" stroke-width="1.0" />
<line x1="378.48" y1="248.4" x2="378.48" y2="250.9" stroke="#1a1a1a" stroke-width="1.0" />
<line x1="381.61" y1="432.3" x2="381.61" y2="429.8" stroke="#1a1a1a" stroke-width="1.0" />
<line x1="381.61" y1="248.4" x2="381.61" y2="250.9" stroke="#1a1a1a" stroke-width="1.0" />
<line x1="384.73" y1="432.3" x2="384.73" y2="429.8" stroke="#1a1a1a" stroke-width="1.0" />
<line x1="384.73" y1="248.4" x2="384.73" y2="250.9" stroke="#1a1a1a" stroke-width="1.0" />
<line x1="387.85" y1="432.3" x2="387.85" y2="429.8" stroke="#1a1a1a" stroke-width="1.0" />
<line x1="387.85" y1="248.4" x2="387.85" y2="250.9" stroke="#1a1a1a" stroke-width="1.0" />
<line x1="390.97" y1="432.3" x2="390.97" y2="429.8" stroke="#1a1a1a" stroke-width="1.0" />
<line x1="390.97" y1="248.4" x2="390.97" y2="250.9" stroke="#1a1a1a" stroke-width="1.0" />
<line x1="394.09" y1="432.3" x2="394.09" y2="429.8" stroke="#1a1a1a" stroke-width="1.0" />
<line x1="394.09" y1="248.4" x2="394.09" y2="250.9" stroke="#1a1a1a" stroke-width="1.0" />
<line x1="397.21" y1="432.3" x2="397.21" y2="429.8" stroke="#1a1a1a" stroke-width="1.0" />
<line x1="397.21" y1="248.4" x2="397.21" y2="250.9" stroke="#1a1a1a" stroke-width="1.0" />
<line x1="400.33" y1="432.3" x2="400.33" y2="429.8" stroke="#1a1a1a" stroke-width="1.0" />
<line x1="400.33" y1="248.4" x2="400.33" y2="250.9" stroke="#1a1a1a" stroke-width="1.0" />
<line x1="406.57" y1="432.3" x2="406.57" y2="429.8" stroke="#1a1a1a" stroke-width="1.0" />
<line x1="406.57" y1="248.4" x2="406.57" y2="250.9" stroke="#1a1a1a" stroke-width="1.0" />
<line x1="409.69" y1="432.3" x2="409.69" y2="429.8" stroke="#1a1a1a" stroke-width="1.0" />
<line x1="409.69" y1="248.4" x2="409.69" y2="250.9" stroke="#1a1a1a" stroke-width="1.0" />
<line x1="412.81" y1="432.3" x2="412.81" y2="429.8" stroke="#1a1a1a" stroke-width="1.0" />
<line x1="412.81" y1="248.4" x2="412.81" y2="250.9" stroke="#1a1a1a" stroke-width="1.0" />
<line x1="415.94" y1="432.3" x2="415.94" y2="429.8" stroke="#1a1a1a" stroke-width="1.0" />
<line x1="415.94" y1="248.4" x2="415.94" y2="250.9" stroke="#1a1a1a" stroke-width="1.0" />
<line x1="419.06" y1="432.3" x2="419.06" y2="429.8" stroke="#1a1a1a" stroke-width="1.0" />
<line x1="419.06" y1="248.4" x2="419.06" y2="250.9" stroke="#1a1a1a" stroke-width="1.0" />
<line x1="422.18" y1="432.3" x2="422.18" y2="429.8" stroke="#1a1a1a" stroke-width="1.0" />
<line x1="422.18" y1="248.4" x2="422.18" y2="250.9" stroke="#1a1a1a" stroke-width="1.0" />
<line x1="425.3" y1="432.3" x2="425.3" y2="429.8" stroke="#1a1a1a" stroke-width="1.0" />
<line x1="425.3" y1="248.4" x2="425.3" y2="250.9" stroke="#1a1a1a" stroke-width="1.0" />
<line x1="428.42" y1="432.3" x2="428.42" y2="429.8" stroke="#1a1a1a" stroke-width="1.0" />
<line x1="428.42" y1="248.4" x2="428.42" y2="250.9" stroke="#1a1a1a" stroke-width="1.0" />
<line x1="431.54" y1="432.3" x2="431.54" y2="429.8" stroke="#1a1a1a" stroke-width="1.0" />
<line x1="431.54" y1="248.4" x2="431.54" y2="250.9" stroke="#1a1a1a" stroke-width="1.0" />
<line x1="434.66" y1="432.3" x2="434.66" y2="429.8" stroke="#1a1a1a" stroke-width="1.0" />
<line x1="434.66" y1="248.4" x2="434.66" y2="250.9" stroke="#1a1a1a" stroke-width="1.0" />
<line x1="437.78" y1="432.3" x2="437.78" y2="429.8" stroke="#1a1a1a" stroke-width="1.0" />
<line x1="437.78" y1="248.4" x2="437.78" y2="250.9" stroke="#1a1a1a" stroke-width="1.0" />
<line x1="444.02" y1="432.3" x2="444.02" y2="429.8" stroke="#1a1a1a" stroke-width="1.0" />
<line x1="444.02" y1="248.4" x2="444.02" y2="250.9" stroke="#1a1a1a" stroke-width="1.0" />
<line x1="447.15" y1="432.3" x2="447.15" y2="429.8" stroke="#1a1a1a" stroke-width="1.0" />
<line x1="447.15" y1="248.4" x2="447.15" y2="250.9" stroke="#1a1a1a" stroke-width="1.0" />
<line x1="450.27" y1="432.3" x2="450.27" y2="429.8" stroke="#1a1a1a" stroke-width="1.0" />
<line x1="450.27" y1="248.4" x2="450.27" y2="250.9" stroke="#1a1a1a" stroke-width="1.0" />
<line x1="453.39" y1="432.3" x2="453.39" y2="429.8" stroke="#1a1a1a" stroke-width="1.0" />
<line x1="453.39" y1="248.4" x2="453.39" y2="250.9" stroke="#1a1a1a" stroke-width="1.0" />
<line x1="456.51" y1="432.3" x2="456.51" y2="429.8" stroke="#1a1a1a" stroke-width="1.0" />
<line x1="456.51" y1="248.4" x2="456.51" y2="250.9" stroke="#1a1a1a" stroke-width="1.0" />
<line x1="459.63" y1="432.3" x2="459.63" y2="429.8" stroke="#1a1a1a" stroke-width="1.0" />
<line x1="459.63" y1="248.4" x2="459.63" y2="250.9" stroke="#1a1a1a" stroke-width="1.0" />
<line x1="462.75" y1="432.3" x2="462.75" y2="429.8" stroke="#1a1a1a" stroke-width="1.0" />
<line x1="462.75" y1="248.4" x2="462.75" y2="250.9" stroke="#1a1a1a" stroke-width="1.0" />
<line x1="465.87" y1="432.3" x2="465.87" y2="429.8" stroke="#1a1a1a" stroke-width="1.0" />
<line x1="465.87" y1="248.4" x2="465.87" y2="250.9" stroke="#1a1a1a" stroke-width="1.0" />
<line x1="468.99" y1="432.3" x2="468.99" y2="429.8" stroke="#1a1a1a" stroke-width="1.0" />
<line x1="468.99" y1="248.4" x2="468.99" y2="250.9" stroke="#1a1a1a" stroke-width="1.0" />
<line x1="472.11" y1="432.3" x2="472.11" y2="429.8" stroke="#1a1a1a" stroke-width="1.0" />
<line x1="472.11" y1="248.4" x2="472.11" y2="250.9" stroke="#1a1a1a" stroke-width="1.0" />
<line x1="475.24" y1="432.3" x2="475.24" y2="429.8" stroke="#1a1a1a" stroke-width="1.0" />
<line x1="475.24" y1="248.4" x2="475.24" y2="250.9" stroke="#1a1a1a" stroke-width="1.0" />
<line x1="481.48" y1="432.3" x2="481.48" y2="429.8" stroke="#1a1a1a" stroke-width="1.0" />
<line x1="481.48" y1="248.4" x2="481.48" y2="250.9" stroke="#1a1a1a" stroke-width="1.0" />
<line x1="484.6" y1="432.3" x2="484.6" y2="429.8" stroke="#1a1a1a" stroke-width="1.0" />
<line x1="484.6" y1="248.4" x2="484.6" y2="250.9" stroke="#1a1a1a" stroke-width="1.0" />
<line x1="487.72" y1="432.3" x2="487.72" y2="429.8" stroke="#1a1a1a" stroke-width="1.0" />
<line x1="487.72" y1="248.4" x2="487.72" y2="250.9" stroke="#1a1a1a" stroke-width="1.0" />
<line x1="490.84" y1="432.3" x2="490.84" y2="429.8" stroke="#1a1a1a" stroke-width="1.0" />
<line x1="490.84" y1="248.4" x2="490.84" y2="250.9" stroke="#1a1a1a" stroke-width="1.0" />
<line x1="493.96" y1="432.3" x2="493.96" y2="429.8" stroke="#1a1a1a" stroke-width="1.0" />
<line x1="493.96" y1="248.4" x2="493.96" y2="250.9" stroke="#1a1a1a" stroke-width="1.0" />
<line x1="497.08" y1="432.3" x2="497.08" y2="429.8" stroke="#1a1a1a" stroke-width="1.0" />
<line x1="497.08" y1="248.4" x2="497.08" y2="250.9" stroke="#1a1a1a" stroke-width="1.0" />
<line x1="500.2" y1="432.3" x2="500.2" y2="429.8" stroke="#1a1a1a" stroke-width="1.0" />
<line x1="500.2" y1="248.4" x2="500.2" y2="250.9" stroke="#1a1a1a" stroke-width="1.0" />
<line x1="503.32" y1="432.3" x2="503.32" y2="429.8" stroke="#1a1a1a" stroke-width="1.0" />
<line x1="503.32" y1="248.4" x2="503.32" y2="250.9" stroke="#1a1a1a" stroke-width="1.0" />
<line x1="506.44" y1="432.3" x2="506.44" y2="429.8" stroke="#1a1a1a" stroke-width="1.0" />
<line x1="506.44" y1="248.4" x2="506.44" y2="250.9" stroke="#1a1a1a" stroke-width="1.0" />
<line x1="509.57" y1="432.3" x2="509.57" y2="429.8" stroke="#1a1a1a" stroke-width="1.0" />
<line x1="509.57" y1="248.4" x2="509.57" y2="250.9" stroke="#1a1a1a" stroke-width="1.0" />
<line x1="512.69" y1="432.3" x2="512.69" y2="429.8" stroke="#1a1a1a" stroke-width="1.0" />
<line x1="512.69" y1="248.4" x2="512.69" y2="250.9" stroke="#1a1a1a" stroke-width="1.0" />
<line x1="518.93" y1="432.3" x2="518.93" y2="429.8" stroke="#1a1a1a" stroke-width="1.0" />
<line x1="518.93" y1="248.4" x2="518.93" y2="250.9" stroke="#1a1a1a" stroke-width="1.0" />
<line x1="522.05" y1="432.3" x2="522.05" y2="429.8" stroke="#1a1a1a" stroke-width="1.0" />
<line x1="522.05" y1="248.4" x2="522.05" y2="250.9" stroke="#1a1a1a" stroke-width="1.0" />
<line x1="525.17" y1="432.3" x2="525.17" y2="429.8" stroke="#1a1a1a" stroke-width="1.0" />
<line x1="525.17" y1="248.4" x2="525.17" y2="250.9" stroke="#1a1a1a" stroke-width="1.0" />
<line x1="528.29" y1="432.3" x2="528.29" y2="429.8" stroke="#1a1a1a" stroke-width="1.0" />
<line x1="528.29" y1="248.4" x2="528.29" y2="250.9" stroke="#1a1a1a" stroke-width="1.0" />
<line x1="531.41" y1="432.3" x2="531.41" y2="429.8" stroke="#1a1a1a" stroke-width="1.0" />
<line x1="531.41" y1="248.4" x2="531.41" y2="250.9" stroke="#1a1a1a" stroke-width="1.0" />
<line x1="534.53" y1="432.3" x2="534.53" y2="429.8" stroke="#1a1a1a" stroke-width="1.0" />
<line x1="534.53" y1="248.4" x2="534.53" y2="250.9" stroke="#1a1a1a" stroke-width="1.0" />
<line x1="537.65" y1="432.3" x2="537.65" y2="429.8" stroke="#1a1a1a" stroke-width="1.0" />
<line x1="537.65" y1="248.4" x2="537.65" y2="250.9" stroke="#1a1a1a" stroke-width="1.0" />
<line x1="540.78" y1="432.3" x2="540.78" y2="429.8" stroke="#1a1a1a" stroke-width="1.0" />
<line x1="540.78" y1="248.4" x2="540.78" y2="250.9" stroke="#1a1a1a" stroke-width="1.0" />
<line x1="543.9" y1="432.3" x2="543.9" y2="429.8" stroke="#1a1a1a" stroke-width="1.0" />
<line x1="543.9" y1="248.4" x2="543.9" y2="250.9" stroke="#1a1a1a" stroke-width="1.0" />
<line x1="547.02" y1="432.3" x2="547.02" y2="429.8" stroke="#1a1a1a" stroke-width="1.0" />
<line x1="547.02" y1="248.4" x2="547.02" y2="250.9" stroke="#1a1a1a" stroke-width="1.0" />
<line x1="550.14" y1="432.3" x2="550.14" y2="429.8" stroke="#1a1a1a" stroke-width="1.0" />
<line x1="550.14" y1="248.4" x2="550.14" y2="250.9" stroke="#1a1a1a" stroke-width="1.0" />
<line x1="556.38" y1="432.3" x2="556.38" y2="429.8" stroke="#1a1a1a" stroke-width="1.0" />
<line x1="556.38" y1="248.4" x2="556.38" y2="250.9" stroke="#1a1a1a" stroke-width="1.0" />
<line x1="559.5" y1="432.3" x2="559.5" y2="429.8" stroke="#1a1a1a" stroke-width="1.0" />
<line x1="559.5" y1="248.4" x2="559.5" y2="250.9" stroke="#1a1a1a" stroke-width="1.0" />
<line x1="562.62" y1="432.3" x2="562.62" y2="429.8" stroke="#1a1a1a" stroke-width="1.0" />
<line x1="562.62" y1="248.4" x2="562.62" y2="250.9" stroke="#1a1a1a" stroke-width="1.0" />
<line x1="565.74" y1="432.3" x2="565.74" y2="429.8" stroke="#1a1a1a" stroke-width="1.0" />
<line x1="565.74" y1="248.4" x2="565.74" y2="250.9" stroke="#1a1a1a" stroke-width="1.0" />
<line x1="568.87" y1="432.3" x2="568.87" y2="429.8" stroke="#1a1a1a" stroke-width="1.0" />
<line x1="568.87" y1="248.4" x2="568.87" y2="250.9" stroke="#1a1a1a" stroke-width="1.0" />
<line x1="571.99" y1="432.3" x2="571.99" y2="429.8" stroke="#1a1a1a" stroke-width="1.0" />
<line x1="571.99" y1="248.4" x2="571.99" y2="250.9" stroke="#1a1a1a" stroke-width="1.0" />
<line x1="575.11" y1="432.3" x2="575.11" y2="429.8" stroke="#1a1a1a" stroke-width="1.0" />
<line x1="575.11" y1="248.4" x2="575.11" y2="250.9" stroke="#1a1a1a" stroke-width="1.0" />
<line x1="578.23" y1="432.3" x2="578.23" y2="429.8" stroke="#1a1a1a" stroke-width="1.0" />
<line x1="578.23" y1="248.4" x2="578.23" y2="250.9" stroke="#1a1a1a" stroke-width="1.0" />
<line x1="581.35" y1="432.3" x2="581.35" y2="429.8" stroke="#1a1a1a" stroke-width="1.0" />
<line x1="581.35" y1="248.4" x2="581.35" y2="250.9" stroke="#1a1a1a" stroke-width="1.0" />
<line x1="584.47" y1="432.3" x2="584.47" y2="429.8" stroke="#1a1a1a" stroke-width="1.0" />
<line x1="584.47" y1="248.4" x2="584.47" y2="250.9" stroke="#1a1a1a" stroke-width="1.0" />
<line x1="587.59" y1="432.3" x2="587.59" y2="429.8" stroke="#1a1a1a" stroke-width="1.0" />
<line x1="587.59" y1="248.4" x2="587.59" y2="250.9" stroke="#1a1a1a" stroke-width="1.0" />
<line x1="362.9" y1="432.3" x2="367.4" y2="432.3" stroke="#1a1a1a" stroke-width="1.0" />
<line x1="590.7" y1="432.3" x2="586.2" y2="432.3" stroke="#1a1a1a" stroke-width="1.0" />
<line x1="362.9" y1="386.3" x2="367.4" y2="386.3" stroke="#1a1a1a" stroke-width="1.0" />
<line x1="590.7" y1="386.3" x2="586.2" y2="386.3" stroke="#1a1a1a" stroke-width="1.0" />
<line x1="362.9" y1="340.3" x2="367.4" y2="340.3" stroke="#1a1a1a" stroke-width="1.0" />
<line x1="590.7" y1="340.3" x2="586.2" y2="340.3" stroke="#1a1a1a" stroke-width="1.0" />
<line x1="362.9" y1="294.3" x2="367.4" y2="294.3" stroke="#1a1a1a" stroke-width="1.0" />
<line x1="590.7" y1="294.3" x2="586.2" y2="294.3" stroke="#1a1a1a" stroke-width="1.0" />
<line x1="362.9" y1="248.3" x2="367.4" y2="248.3" stroke="#1a1a1a" stroke-width="1.0" />
<line x1="590.7" y1="248.3" x2="586.2" y2="248.3" stroke="#1a1a1a" stroke-width="1.0" />
<line x1="362.9" y1="427.7" x2="365.4" y2="427.7" stroke="#1a1a1a" stroke-width="1.0" />
<line x1="590.7" y1="427.7" x2="588.2" y2="427.7" stroke="#1a1a1a" stroke-width="1.0" />
<line x1="362.9" y1="423.1" x2="365.4" y2="423.1" stroke="#1a1a1a" stroke-width="1.0" />
<line x1="590.7" y1="423.1" x2="588.2" y2="423.1" stroke="#1a1a1a" stroke-width="1.0" />
<line x1="362.9" y1="418.5" x2="365.4" y2="418.5" stroke="#1a1a1a" stroke-width="1.0" />
<line x1="590.7" y1="418.5" x2="588.2" y2="418.5" stroke="#1a1a1a" stroke-width="1.0" />
<line x1="362.9" y1="413.9" x2="365.4" y2="413.9" stroke="#1a1a1a" stroke-width="1.0" />
<line x1="590.7" y1="413.9" x2="588.2" y2="413.9" stroke="#1a1a1a" stroke-width="1.0" />
<line x1="362.9" y1="409.3" x2="365.4" y2="409.3" stroke="#1a1a1a" stroke-width="1.0" />
<line x1="590.7" y1="409.3" x2="588.2" y2="409.3" stroke="#1a1a1a" stroke-width="1.0" />
<line x1="362.9" y1="404.7" x2="365.4" y2="404.7" stroke="#1a1a1a" stroke-width="1.0" />
<line x1="590.7" y1="404.7" x2="588.2" y2="404.7" stroke="#1a1a1a" stroke-width="1.0" />
<line x1="362.9" y1="400.1" x2="365.4" y2="400.1" stroke="#1a1a1a" stroke-width="1.0" />
<line x1="590.7" y1="400.1" x2="588.2" y2="400.1" stroke="#1a1a1a" stroke-width="1.0" />
<line x1="362.9" y1="395.5" x2="365.4" y2="395.5" stroke="#1a1a1a" stroke-width="1.0" />
<line x1="590.7" y1="395.5" x2="588.2" y2="395.5" stroke="#1a1a1a" stroke-width="1.0" />
<line x1="362.9" y1="390.9" x2="365.4" y2="390.9" stroke="#1a1a1a" stroke-width="1.0" />
<line x1="590.7" y1="390.9" x2="588.2" y2="390.9" stroke="#1a1a1a" stroke-width="1.0" />
<line x1="362.9" y1="381.7" x2="365.4" y2="381.7" stroke="#1a1a1a" stroke-width="1.0" />
<line x1="590.7" y1="381.7" x2="588.2" y2="381.7" stroke="#1a1a1a" stroke-width="1.0" />
<line x1="362.9" y1="377.1" x2="365.4" y2="377.1" stroke="#1a1a1a" stroke-width="1.0" />
<line x1="590.7" y1="377.1" x2="588.2" y2="377.1" stroke="#1a1a1a" stroke-width="1.0" />
<line x1="362.9" y1="372.5" x2="365.4" y2="372.5" stroke="#1a1a1a" stroke-width="1.0" />
<line x1="590.7" y1="372.5" x2="588.2" y2="372.5" stroke="#1a1a1a" stroke-width="1.0" />
<line x1="362.9" y1="367.9" x2="365.4" y2="367.9" stroke="#1a1a1a" stroke-width="1.0" />
<line x1="590.7" y1="367.9" x2="588.2" y2="367.9" stroke="#1a1a1a" stroke-width="1.0" />
<line x1="362.9" y1="363.3" x2="365.4" y2="363.3" stroke="#1a1a1a" stroke-width="1.0" />
<line x1="590.7" y1="363.3" x2="588.2" y2="363.3" stroke="#1a1a1a" stroke-width="1.0" />
<line x1="362.9" y1="358.7" x2="365.4" y2="358.7" stroke="#1a1a1a" stroke-width="1.0" />
<line x1="590.7" y1="358.7" x2="588.2" y2="358.7" stroke="#1a1a1a" stroke-width="1.0" />
<line x1="362.9" y1="354.1" x2="365.4" y2="354.1" stroke="#1a1a1a" stroke-width="1.0" />
<line x1="590.7" y1="354.1" x2="588.2" y2="354.1" stroke="#1a1a1a" stroke-width="1.0" />
<line x1="362.9" y1="349.5" x2="365.4" y2="349.5" stroke="#1a1a1a" stroke-width="1.0" />
<line x1="590.7" y1="349.5" x2="588.2" y2="349.5" stroke="#1a1a1a" stroke-width="1.0" />
<line x1="362.9" y1="344.9" x2="365.4" y2="344.9" stroke="#1a1a1a" stroke-width="1.0" />
<line x1="590.7" y1="344.9" x2="588.2" y2="344.9" stroke="#1a1a1a" stroke-width="1.0" />
<line x1="362.9" y1="335.7" x2="365.4" y2="335.7" stroke="#1a1a1a" stroke-width="1.0" />
<line x1="590.7" y1="335.7" x2="588.2" y2="335.7" stroke="#1a1a1a" stroke-width="1.0" />
<line x1="362.9" y1="331.1" x2="365.4" y2="331.1" stroke="#1a1a1a" stroke-width="1.0" />
<line x1="590.7" y1="331.1" x2="588.2" y2="331.1" stroke="#1a1a1a" stroke-width="1.0" />
<line x1="362.9" y1="326.5" x2="365.4" y2="326.5" stroke="#1a1a1a" stroke-width="1.0" />
<line x1="590.7" y1="326.5" x2="588.2" y2="326.5" stroke="#1a1a1a" stroke-width="1.0" />
<line x1="362.9" y1="321.9" x2="365.4" y2="321.9" stroke="#1a1a1a" stroke-width="1.0" />
<line x1="590.7" y1="321.9" x2="588.2" y2="321.9" stroke="#1a1a1a" stroke-width="1.0" />
<line x1="362.9" y1="317.3" x2="365.4" y2="317.3" stroke="#1a1a1a" stroke-width="1.0" />
<line x1="590.7" y1="317.3" x2="588.2" y2="317.3" stroke="#1a1a1a" stroke-width="1.0" />
<line x1="362.9" y1="312.7" x2="365.4" y2="312.7" stroke="#1a1a1a" stroke-width="1.0" />
<line x1="590.7" y1="312.7" x2="588.2" y2="312.7" stroke="#1a1a1a" stroke-width="1.0" />
<line x1="362.9" y1="308.1" x2="365.4" y2="308.1" stroke="#1a1a1a" stroke-width="1.0" />
<line x1="590.7" y1="308.1" x2="588.2" y2="308.1" stroke="#1a1a1a" stroke-width="1.0" />
<line x1="362.9" y1="303.5" x2="365.4" y2="303.5" stroke="#1a1a1a" stroke-width="1.0" />
<line x1="590.7" y1="303.5" x2="588.2" y2="303.5" stroke="#1a1a1a" stroke-width="1.0" />
<line x1="362.9" y1="298.9" x2="365.4" y2="298.9" stroke="#1a1a1a" stroke-width="1.0" />
<line x1="590.7" y1="298.9" x2="588.2" y2="298.9" stroke="#1a1a1a" stroke-width="1.0" />
<line x1="362.9" y1="289.7" x2="365.4" y2="289.7" stroke="#1a1a1a" stroke-width="1.0" />
<line x1="590.7" y1="289.7" x2="588.2" y2="289.7" stroke="#1a1a1a" stroke-width="1.0" />
<line x1="362.9" y1="285.1" x2="365.4" y2="285.1" stroke="#1a1a1a" stroke-width="1.0" />
<line x1="590.7" y1="285.1" x2="588.2" y2="285.1" stroke="#1a1a1a" stroke-width="1.0" />
<line x1="362.9" y1="280.5" x2="365.4" y2="280.5" stroke="#1a1a1a" stroke-width="1.0" />
<line x1="590.7" y1="280.5" x2="588.2" y2="280.5" stroke="#1a1a1a" stroke-width="1.0" />
<line x1="362.9" y1="275.9" x2="365.4" y2="275.9" stroke="#1a1a1a" stroke-width="1.0" />
<line x1="590.7" y1="275.9" x2="588.2" y2="275.9" stroke="#1a1a1a" stroke-width="1.0" />
<line x1="362.9" y1="271.3" x2="365.4" y2="271.3" stroke="#1a1a1a" stroke-width="1.0" />
<line x1="590.7" y1="271.3" x2="588.2" y2="271.3" stroke="#1a1a1a" stroke-width="1.0" />
<line x1="362.9" y1="266.7" x2="365.4" y2="266.7" stroke="#1a1a1a" stroke-width="1.0" />
<line x1="590.7" y1="266.7" x2="588.2" y2="266.7" stroke="#1a1a1a" stroke-width="1.0" />
<line x1="362.9" y1="262.1" x2="365.4" y2="262.1" stroke="#1a1a1a" stroke-width="1.0" />
<line x1="590.7" y1="262.1" x2="588.2" y2="262.1" stroke="#1a1a1a" stroke-width="1.0" />
<line x1="362.9" y1="257.5" x2="365.4" y2="257.5" stroke="#1a1a1a" stroke-width="1.0" />
<line x1="590.7" y1="257.5" x2="588.2" y2="257.5" stroke="#1a1a1a" stroke-width="1.0" />
<line x1="362.9" y1="252.9" x2="365.4" y2="252.9" stroke="#1a1a1a" stroke-width="1.0" />
<line x1="590.7" y1="252.9" x2="588.2" y2="252.9" stroke="#1a1a1a" stroke-width="1.0" />
<text x="366" y="447.6" font-size="14" text-anchor="middle" font-weight="normal" fill="#1a1a1a" >0</text>
<text x="403.45" y="447.6" font-size="14" text-anchor="middle" font-weight="normal" fill="#1a1a1a" >60</text>
<text x="440.9" y="447.6" font-size="14" text-anchor="middle" font-weight="normal" fill="#1a1a1a" >120</text>
<text x="478.36" y="447.6" font-size="14" text-anchor="middle" font-weight="normal" fill="#1a1a1a" >180</text>
<text x="515.81" y="447.6" font-size="14" text-anchor="middle" font-weight="normal" fill="#1a1a1a" >240</text>
<text x="553.26" y="447.6" font-size="14" text-anchor="middle" font-weight="normal" fill="#1a1a1a" >300</text>
<text x="590.71" y="447.6" font-size="14" text-anchor="middle" font-weight="normal" fill="#1a1a1a" >360</text>
<text x="354.7" y="437.1" font-size="14.5" text-anchor="middle" font-weight="normal" fill="#1a1a1a" >3</text>
<text x="354.7" y="391.1" font-size="14.5" text-anchor="middle" font-weight="normal" fill="#1a1a1a" >4</text>
<text x="354.7" y="345.1" font-size="14.5" text-anchor="middle" font-weight="normal" fill="#1a1a1a" >5</text>
<text x="354.7" y="299.1" font-size="14.5" text-anchor="middle" font-weight="normal" fill="#1a1a1a" >6</text>
<text x="354.7" y="253.1" font-size="14.5" text-anchor="middle" font-weight="normal" fill="#1a1a1a" >7</text>
<text x="371.8" y="244" font-size="14" text-anchor="start" font-weight="normal" fill="#1a1a1a" >BYG (111)</text>
<text x="366.4" y="261.4" font-size="11" fill="#1a1a1a">γ=2.75 GHz/kOe</text>
<text x="366.4" y="273.4" font-size="11" fill="#1a1a1a">M<tspan font-size="7.5" dy="2">s</tspan><tspan dy="-2">=1.840 kOe</tspan></text>
<text x="497.0" y="260" font-size="11" fill="#1a1a1a">H<tspan font-size="7.2" dy="2.5">k2</tspan><tspan dy="-2.5">=0.766±0.32 kOe</tspan></text>
<text x="517.3" y="274" font-size="11" fill="#1a1a1a">H<tspan font-size="7.2" dy="2.5">k1</tspan><tspan dy="-2.5">=0.207 kOe</tspan></text>
<circle cx="480.2" cy="292.5" r="28.8" fill="#fff" stroke="#777" stroke-width="0.6"/>
<circle cx="480.2" cy="292.5" r="4" fill="none" stroke="#bbb" stroke-width="0.5" stroke-dasharray="1,1"/>
<polygon points="480.3,285 483.5,275.2 486.2,277.1 489,277.6 492,278.6 499.9,276.3 504.8,278.6 506.9,283.1 501.2,288.9 502.2,292.4 497.1,295.5 499.9,299.4 496.1,301 495,304.5 491.6,305.5 487.7,305.1 486.7,308.7 483.5,309.6 480.3,299.7 477.5,307.4 474.3,308.1 470.5,309.1 466.6,307.7 464.7,304.9 464.1,301.7 461.3,299.4 461.8,295.9 458.7,292.4 463.8,289.5 460.9,285.7 464.7,283.7 465.6,280.5 469.2,279.3 473,279.9 474,276.1 477.1,275.2" fill="none" stroke="#666" stroke-width="0.5"/>
<circle cx="480.3" cy="285" r="1.3" fill="#ff1a1a"/>
<circle cx="483.5" cy="275.2" r="1.3" fill="#ff1a1a"/>
<circle cx="486.2" cy="277.1" r="1.3" fill="#ff1a1a"/>
<circle cx="489" cy="277.6" r="1.3" fill="#ff1a1a"/>
<circle cx="492" cy="278.6" r="1.3" fill="#ff1a1a"/>
<circle cx="499.9" cy="276.3" r="1.3" fill="#ff1a1a"/>
<circle cx="504.8" cy="278.6" r="1.3" fill="#ff1a1a"/>
<circle cx="506.9" cy="283.1" r="1.3" fill="#ff1a1a"/>
<circle cx="501.2" cy="288.9" r="1.3" fill="#ff1a1a"/>
<circle cx="502.2" cy="292.4" r="1.3" fill="#ff1a1a"/>
<circle cx="497.1" cy="295.5" r="1.3" fill="#ff1a1a"/>
<circle cx="499.9" cy="299.4" r="1.3" fill="#ff1a1a"/>
<circle cx="496.1" cy="301" r="1.3" fill="#ff1a1a"/>
<circle cx="495" cy="304.5" r="1.3" fill="#ff1a1a"/>
<circle cx="491.6" cy="305.5" r="1.3" fill="#ff1a1a"/>
<circle cx="487.7" cy="305.1" r="1.3" fill="#ff1a1a"/>
<circle cx="486.7" cy="308.7" r="1.3" fill="#ff1a1a"/>
<circle cx="483.5" cy="309.6" r="1.3" fill="#ff1a1a"/>
<circle cx="480.3" cy="299.7" r="1.3" fill="#ff1a1a"/>
<circle cx="477.5" cy="307.4" r="1.3" fill="#ff1a1a"/>
<circle cx="474.3" cy="308.1" r="1.3" fill="#ff1a1a"/>
<circle cx="470.5" cy="309.1" r="1.3" fill="#ff1a1a"/>
<circle cx="466.6" cy="307.7" r="1.3" fill="#ff1a1a"/>
<circle cx="464.7" cy="304.9" r="1.3" fill="#ff1a1a"/>
<circle cx="464.1" cy="301.7" r="1.3" fill="#ff1a1a"/>
<circle cx="461.3" cy="299.4" r="1.3" fill="#ff1a1a"/>
<circle cx="461.8" cy="295.9" r="1.3" fill="#ff1a1a"/>
<circle cx="458.7" cy="292.4" r="1.3" fill="#ff1a1a"/>
<circle cx="463.8" cy="289.5" r="1.3" fill="#ff1a1a"/>
<circle cx="460.9" cy="285.7" r="1.3" fill="#ff1a1a"/>
<circle cx="464.7" cy="283.7" r="1.3" fill="#ff1a1a"/>
<circle cx="465.6" cy="280.5" r="1.3" fill="#ff1a1a"/>
<circle cx="469.2" cy="279.3" r="1.3" fill="#ff1a1a"/>
<circle cx="473" cy="279.9" r="1.3" fill="#ff1a1a"/>
<circle cx="474" cy="276.1" r="1.3" fill="#ff1a1a"/>
<circle cx="477.1" cy="275.2" r="1.3" fill="#ff1a1a"/>
<text x="511.68" y="294.4" font-size="5.5" text-anchor="middle" fill="#333">0</text>
<text x="512.27" y="285.81" font-size="5.5" text-anchor="middle" fill="#333">15</text>
<text x="509.07" y="277.73" font-size="5.5" text-anchor="middle" fill="#333">30</text>
<text x="503.71" y="270.89" font-size="5.5" text-anchor="middle" fill="#333">45</text>
<text x="496.67" y="265.87" font-size="5.5" text-anchor="middle" fill="#333">60</text>
<text x="488.6" y="263.05" font-size="5.5" text-anchor="middle" fill="#333">75</text>
<text x="480.2" y="262.6" font-size="5.5" text-anchor="middle" fill="#333">90</text>
<text x="471.71" y="262.71" font-size="5.5" text-anchor="middle" fill="#333">105</text>
<text x="463.38" y="265.27" font-size="5.5" text-anchor="middle" fill="#333">120</text>
<text x="456" y="270.2" font-size="5.5" text-anchor="middle" fill="#333">135</text>
<text x="450.3" y="277.14" font-size="5.5" text-anchor="middle" fill="#333">150</text>
<text x="446.85" y="285.46" font-size="5.5" text-anchor="middle" fill="#333">165</text>
<text x="445.97" y="294.4" font-size="5.5" text-anchor="middle" fill="#333">180</text>
<text x="446.85" y="303.34" font-size="5.5" text-anchor="middle" fill="#333">195</text>
<text x="450.3" y="311.66" font-size="5.5" text-anchor="middle" fill="#333">210</text>
<text x="456" y="318.6" font-size="5.5" text-anchor="middle" fill="#333">225</text>
<text x="463.38" y="323.53" font-size="5.5" text-anchor="middle" fill="#333">240</text>
<text x="471.71" y="326.09" font-size="5.5" text-anchor="middle" fill="#333">255</text>
<text x="480.2" y="326.2" font-size="5.5" text-anchor="middle" fill="#333">270</text>
<text x="488.69" y="326.09" font-size="5.5" text-anchor="middle" fill="#333">285</text>
<text x="497.02" y="323.53" font-size="5.5" text-anchor="middle" fill="#333">300</text>
<text x="504.4" y="318.6" font-size="5.5" text-anchor="middle" fill="#333">315</text>
<text x="510.1" y="311.66" font-size="5.5" text-anchor="middle" fill="#333">330</text>
<text x="513.55" y="303.34" font-size="5.5" text-anchor="middle" fill="#333">345</text>
<polyline points="366,421.71 366.62,421.69 367.25,421.62 367.87,421.51 368.5,421.35 369.12,421.15 369.75,420.91 370.37,420.62 370.99,420.29 371.62,419.92 372.24,419.5 372.87,419.04 373.49,418.53 374.11,417.98 374.74,417.39 375.36,416.75 375.99,416.07 376.61,415.35 377.24,414.59 377.86,413.78 378.48,412.93 379.11,412.03 379.73,411.09 380.36,410.11 380.98,409.09 381.61,408.02 382.23,406.91 382.85,405.75 383.48,404.55 384.1,403.3 384.73,402 385.35,400.67 385.97,399.28 386.6,397.84 387.22,396.36 387.85,394.83 388.47,393.25 389.1,391.62 389.72,389.93 390.34,388.2 390.97,386.41 391.59,384.57 392.22,382.68 392.84,380.73 393.46,378.73 394.09,376.67 394.71,374.56 395.34,372.4 395.96,370.19 396.59,367.92 397.21,365.6 397.83,363.23 398.46,360.82 399.08,358.36 399.71,355.85 400.33,353.31 400.96,350.73 401.58,348.11 402.2,345.47 402.83,342.8 403.45,340.11 404.08,337.41 404.7,334.69 405.32,331.98 405.95,329.27 406.57,326.56 407.2,323.88 407.82,321.22 408.45,318.59 409.07,316 409.69,313.46 410.32,310.97 410.94,308.55 411.57,306.21 412.19,303.94 412.81,301.76 413.44,299.68 414.06,297.7 414.69,295.84 415.31,294.1 415.94,292.48 416.56,290.99 417.18,289.65 417.81,288.45 418.43,287.39 419.06,286.5 419.68,285.76 420.31,285.18 420.93,284.76 421.55,284.51 422.18,284.43 422.8,284.51 423.43,284.76 424.05,285.18 424.67,285.76 425.3,286.5 425.92,287.39 426.55,288.45 427.17,289.65 427.8,290.99 428.42,292.48 429.04,294.1 429.67,295.84 430.29,297.7 430.92,299.68 431.54,301.76 432.17,303.94 432.79,306.21 433.41,308.55 434.04,310.97 434.66,313.46 435.29,316 435.91,318.59 436.53,321.22 437.16,323.88 437.78,326.56 438.41,329.27 439.03,331.98 439.66,334.69 440.28,337.41 440.9,340.11 441.53,342.8 442.15,345.47 442.78,348.11 443.4,350.73 444.02,353.31 444.65,355.85 445.27,358.36 445.9,360.82 446.52,363.23 447.15,365.6 447.77,367.92 448.39,370.19 449.02,372.4 449.64,374.56 450.27,376.67 450.89,378.73 451.52,380.73 452.14,382.68 452.76,384.57 453.39,386.41 454.01,388.2 454.64,389.93 455.26,391.62 455.88,393.25 456.51,394.83 457.13,396.36 457.76,397.84 458.38,399.28 459.01,400.67 459.63,402 460.25,403.3 460.88,404.55 461.5,405.75 462.13,406.91 462.75,408.02 463.38,409.09 464,410.11 464.62,411.09 465.25,412.03 465.87,412.93 466.5,413.78 467.12,414.59 467.74,415.35 468.37,416.07 468.99,416.75 469.62,417.39 470.24,417.98 470.87,418.53 471.49,419.04 472.11,419.5 472.74,419.92 473.36,420.29 473.99,420.62 474.61,420.91 475.24,421.15 475.86,421.35 476.48,421.51 477.11,421.62 477.73,421.69 478.36,421.71 478.98,421.69 479.6,421.62 480.23,421.51 480.85,421.35 481.48,421.15 482.1,420.91 482.73,420.62 483.35,420.29 483.97,419.92 484.6,419.5 485.22,419.04 485.85,418.53 486.47,417.98 487.09,417.39 487.72,416.75 488.34,416.07 488.97,415.35 489.59,414.59 490.22,413.78 490.84,412.93 491.46,412.03 492.09,411.09 492.71,410.11 493.34,409.09 493.96,408.02 494.59,406.91 495.21,405.75 495.83,404.55 496.46,403.3 497.08,402 497.71,400.67 498.33,399.28 498.95,397.84 499.58,396.36 500.2,394.83 500.83,393.25 501.45,391.62 502.08,389.93 502.7,388.2 503.32,386.41 503.95,384.57 504.57,382.68 505.2,380.73 505.82,378.73 506.44,376.67 507.07,374.56 507.69,372.4 508.32,370.19 508.94,367.92 509.57,365.6 510.19,363.23 510.81,360.82 511.44,358.36 512.06,355.85 512.69,353.31 513.31,350.73 513.94,348.11 514.56,345.47 515.18,342.8 515.81,340.11 516.43,337.41 517.06,334.69 517.68,331.98 518.3,329.27 518.93,326.56 519.55,323.88 520.18,321.22 520.8,318.59 521.43,316 522.05,313.46 522.67,310.97 523.3,308.55 523.92,306.21 524.55,303.94 525.17,301.76 525.8,299.68 526.42,297.7 527.04,295.84 527.67,294.1 528.29,292.48 528.92,290.99 529.54,289.65 530.16,288.45 530.79,287.39 531.41,286.5 532.04,285.76 532.66,285.18 533.29,284.76 533.91,284.51 534.53,284.43 535.16,284.51 535.78,284.76 536.41,285.18 537.03,285.76 537.65,286.5 538.28,287.39 538.9,288.45 539.53,289.65 540.15,290.99 540.78,292.48 541.4,294.1 542.02,295.84 542.65,297.7 543.27,299.68 543.9,301.76 544.52,303.94 545.15,306.21 545.77,308.55 546.39,310.97 547.02,313.46 547.64,316 548.27,318.59 548.89,321.22 549.51,323.88 550.14,326.56 550.76,329.27 551.39,331.98 552.01,334.69 552.64,337.41 553.26,340.11 553.88,342.8 554.51,345.47 555.13,348.11 555.76,350.73 556.38,353.31 557.01,355.85 557.63,358.36 558.25,360.82 558.88,363.23 559.5,365.6 560.13,367.92 560.75,370.19 561.37,372.4 562,374.56 562.62,376.67 563.25,378.73 563.87,380.73 564.5,382.68 565.12,384.57 565.74,386.41 566.37,388.2 566.99,389.93 567.62,391.62 568.24,393.25 568.87,394.83 569.49,396.36 570.11,397.84 570.74,399.28 571.36,400.67 571.99,402 572.61,403.3 573.23,404.55 573.86,405.75 574.48,406.91 575.11,408.02 575.73,409.09 576.36,410.11 576.98,411.09 577.6,412.03 578.23,412.93 578.85,413.78 579.48,414.59 580.1,415.35 580.72,416.07 581.35,416.75 581.97,417.39 582.6,417.98 583.22,418.53 583.85,419.04 584.47,419.5 585.09,419.92 585.72,420.29 586.34,420.62 586.97,420.91 587.59,421.15 588.22,421.35 588.84,421.51 589.46,421.62 590.09,421.69 590.71,421.71" fill="none" stroke="#ff1414" stroke-width="2.0" stroke-linejoin="round" stroke-linecap="round" />
<polygon points="366,420.19 368.8,425.04 363.2,425.04" fill="none" stroke="#1010ff" stroke-width="1.3" stroke-linejoin="miter"/>
<polygon points="372.24,416.97 375.04,421.82 369.44,421.82" fill="none" stroke="#1010ff" stroke-width="1.3" stroke-linejoin="miter"/>
<polygon points="378.48,411.91 381.28,416.76 375.68,416.76" fill="none" stroke="#1010ff" stroke-width="1.3" stroke-linejoin="miter"/>
<polygon points="384.73,403.63 387.53,408.48 381.93,408.48" fill="none" stroke="#1010ff" stroke-width="1.3" stroke-linejoin="miter"/>
<polygon points="390.97,388.45 393.77,393.3 388.17,393.3" fill="none" stroke="#1010ff" stroke-width="1.3" stroke-linejoin="miter"/>
<polygon points="397.21,368.67 400.01,373.52 394.41,373.52" fill="none" stroke="#1010ff" stroke-width="1.3" stroke-linejoin="miter"/>
<polygon points="403.45,344.29 406.25,349.14 400.65,349.14" fill="none" stroke="#1010ff" stroke-width="1.3" stroke-linejoin="miter"/>
<polygon points="409.69,315.31 412.49,320.16 406.89,320.16" fill="none" stroke="#1010ff" stroke-width="1.3" stroke-linejoin="miter"/>
<polygon points="415.94,293.69 418.74,298.54 413.14,298.54" fill="none" stroke="#1010ff" stroke-width="1.3" stroke-linejoin="miter"/>
<polygon points="422.18,277.59 424.98,282.44 419.38,282.44" fill="none" stroke="#1010ff" stroke-width="1.3" stroke-linejoin="miter"/>
<polygon points="428.42,285.41 431.22,290.26 425.62,290.26" fill="none" stroke="#1010ff" stroke-width="1.3" stroke-linejoin="miter"/>
<polygon points="434.66,302.43 437.46,307.28 431.86,307.28" fill="none" stroke="#1010ff" stroke-width="1.3" stroke-linejoin="miter"/>
<polygon points="440.9,328.19 443.7,333.04 438.1,333.04" fill="none" stroke="#1010ff" stroke-width="1.3" stroke-linejoin="miter"/>
<polygon points="447.15,354.87 449.95,359.72 444.35,359.72" fill="none" stroke="#1010ff" stroke-width="1.3" stroke-linejoin="miter"/>
<polygon points="453.39,377.41 456.19,382.26 450.59,382.26" fill="none" stroke="#1010ff" stroke-width="1.3" stroke-linejoin="miter"/>
<polygon points="459.63,395.81 462.43,400.66 456.83,400.66" fill="none" stroke="#1010ff" stroke-width="1.3" stroke-linejoin="miter"/>
<polygon points="465.87,406.85 468.67,411.7 463.07,411.7" fill="none" stroke="#1010ff" stroke-width="1.3" stroke-linejoin="miter"/>
<polygon points="472.11,414.21 474.91,419.06 469.31,419.06" fill="none" stroke="#1010ff" stroke-width="1.3" stroke-linejoin="miter"/>
<polygon points="478.36,419.27 481.16,424.12 475.56,424.12" fill="none" stroke="#1010ff" stroke-width="1.3" stroke-linejoin="miter"/>
<polygon points="484.6,416.6 487.4,421.45 481.8,421.45" fill="none" stroke="#1010ff" stroke-width="1.3" stroke-linejoin="miter"/>
<polygon points="490.84,411.4 493.64,416.25 488.04,416.25" fill="none" stroke="#1010ff" stroke-width="1.3" stroke-linejoin="miter"/>
<polygon points="497.08,403.58 499.88,408.43 494.28,408.43" fill="none" stroke="#1010ff" stroke-width="1.3" stroke-linejoin="miter"/>
<polygon points="503.32,389.19 506.12,394.04 500.52,394.04" fill="none" stroke="#1010ff" stroke-width="1.3" stroke-linejoin="miter"/>
<polygon points="509.57,369.08 512.37,373.93 506.77,373.93" fill="none" stroke="#1010ff" stroke-width="1.3" stroke-linejoin="miter"/>
<polygon points="515.81,343.78 518.61,348.63 513.01,348.63" fill="none" stroke="#1010ff" stroke-width="1.3" stroke-linejoin="miter"/>
<polygon points="522.05,315.68 524.85,320.53 519.25,320.53" fill="none" stroke="#1010ff" stroke-width="1.3" stroke-linejoin="miter"/>
<polygon points="528.29,292.77 531.09,297.62 525.49,297.62" fill="none" stroke="#1010ff" stroke-width="1.3" stroke-linejoin="miter"/>
<polygon points="534.53,277.68 537.33,282.53 531.73,282.53" fill="none" stroke="#1010ff" stroke-width="1.3" stroke-linejoin="miter"/>
<polygon points="540.78,284.67 543.58,289.52 537.98,289.52" fill="none" stroke="#1010ff" stroke-width="1.3" stroke-linejoin="miter"/>
<polygon points="547.02,302.29 549.82,307.14 544.22,307.14" fill="none" stroke="#1010ff" stroke-width="1.3" stroke-linejoin="miter"/>
<polygon points="553.26,328.01 556.06,332.86 550.46,332.86" fill="none" stroke="#1010ff" stroke-width="1.3" stroke-linejoin="miter"/>
<polygon points="559.5,354 562.3,358.85 556.7,358.85" fill="none" stroke="#1010ff" stroke-width="1.3" stroke-linejoin="miter"/>
<polygon points="565.74,376.9 568.54,381.75 562.94,381.75" fill="none" stroke="#1010ff" stroke-width="1.3" stroke-linejoin="miter"/>
<polygon points="571.99,396.18 574.79,401.03 569.19,401.03" fill="none" stroke="#1010ff" stroke-width="1.3" stroke-linejoin="miter"/>
<polygon points="578.23,406.8 581.03,411.65 575.43,411.65" fill="none" stroke="#1010ff" stroke-width="1.3" stroke-linejoin="miter"/>
<polygon points="584.47,414.9 587.27,419.75 581.67,419.75" fill="none" stroke="#1010ff" stroke-width="1.3" stroke-linejoin="miter"/>
<polygon points="590.71,419.09 593.51,423.94 587.91,423.94" fill="none" stroke="#1010ff" stroke-width="1.3" stroke-linejoin="miter"/>
<polygon points="404.1,403.98 407.1,409.18 401.1,409.18" fill="none" stroke="#1010ff" stroke-width="1.3" stroke-linejoin="miter"/>
<text x="413.8" y="410.8" font-size="11.4" text-anchor="start" font-weight="normal" fill="#1a1a1a" >observed</text>
<line x1="394.1" y1="420.7" x2="414" y2="420.7" stroke="#ff1414" stroke-width="1.6" />
<text x="420.6" y="424.5" font-size="11.5" text-anchor="start" font-weight="normal" fill="#1a1a1a" >Fitting</text>
<rect x="362.9" y="248.4" width="227.8" height="183.9" fill="none" stroke="#1a1a1a" stroke-width="1.3"/>
<text transform="translate(25.6,334.1) rotate(-90)" font-size="15" text-anchor="middle" fill="#1a1a1a">H<tspan font-size="11" dy="4">r</tspan><tspan dy="-4" dx="4" font-size="14.6">(kOe)</tspan></text>
<text transform="translate(336,338.6) rotate(-90)" font-size="13.5" text-anchor="middle" fill="#1a1a1a">H<tspan font-size="11" dy="4.5">r</tspan><tspan dy="-4.5" dx="6.3" font-size="14.2">(kOe)</tspan></text>
<text x="138.3" y="460" font-size="14" fill="#1a1a1a">θ<tspan font-size="11" dy="4.5">H</tspan><tspan dy="-4.5" dx="4" font-size="14.8">(deg.)</tspan></text>
<text x="457" y="462.6" font-size="14" fill="#1a1a1a">θ<tspan font-size="13" dy="5">H</tspan><tspan dy="-5" font-size="14.8">(deg.)</tspan></text>
</svg></body></html>
